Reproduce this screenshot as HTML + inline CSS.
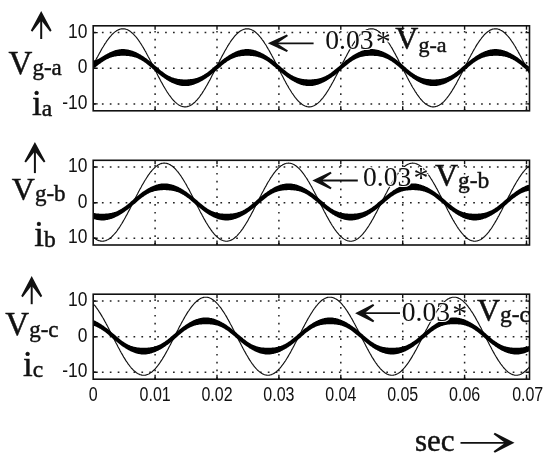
<!DOCTYPE html><html><head><meta charset="utf-8"><title>plot</title><style>html,body{margin:0;padding:0;background:#fff}svg{display:block;filter:blur(.35px)}text{fill:#111}.t{stroke:#111;stroke-width:.45px}.h{stroke:#fff;stroke-width:2.2px;paint-order:stroke fill}.s{font-family:"Liberation Sans",sans-serif;font-size:19.4px}.t{font-family:"Liberation Serif",serif}</style></head><body>
<svg width="550" height="463" viewBox="0 0 550 463">
<rect width="550" height="463" fill="#fff"/>
<defs>
<clipPath id="c0"><rect x="93.2" y="25.8" width="436.3" height="85.0"/></clipPath>
<clipPath id="c1"><rect x="93.2" y="160.3" width="436.3" height="84.69999999999999"/></clipPath>
<clipPath id="c2"><rect x="93.2" y="294.2" width="436.3" height="85.0"/></clipPath>
</defs>
<path d="M93.7,32.6H529.5 M93.7,68.3H529.5 M93.7,103.9H529.5" stroke="#222" stroke-width="1.5" stroke-dasharray="1.7 6.2" stroke-dashoffset="-0.3" fill="none"/>
<path d="M155.1,110.6V25.8 M217.0,110.6V25.8 M278.9,110.6V25.8 M340.8,110.6V25.8 M402.7,110.6V25.8 M464.6,110.6V25.8 M526.5,110.6V25.8" stroke="#222" stroke-width="1.5" stroke-dasharray="1.7 6.1" fill="none"/>
<g clip-path="url(#c0)">
<polyline points="93.2,65.2 93.8,64.0 94.4,62.8 95.1,61.6 95.7,60.3 96.3,59.1 96.9,57.9 97.6,56.8 98.2,55.6 98.8,54.4 99.4,53.3 100.1,52.1 100.7,51.0 101.3,49.9 101.9,48.8 102.5,47.8 103.2,46.7 103.8,45.7 104.4,44.7 105.0,43.7 105.7,42.8 106.3,41.8 106.9,40.9 107.5,40.0 108.2,39.2 108.8,38.4 109.4,37.6 110.0,36.8 110.7,36.1 111.3,35.4 111.9,34.7 112.5,34.1 113.1,33.5 113.8,32.9 114.4,32.4 115.0,31.9 115.6,31.4 116.3,31.0 116.9,30.6 117.5,30.2 118.1,29.9 118.8,29.6 119.4,29.4 120.0,29.2 120.6,29.0 121.2,28.9 121.9,28.8 122.5,28.8 123.1,28.8 123.7,28.8 124.4,28.9 125.0,29.0 125.6,29.1 126.2,29.3 126.9,29.5 127.5,29.8 128.1,30.1 128.7,30.4 129.4,30.8 130.0,31.2 130.6,31.7 131.2,32.1 131.8,32.7 132.5,33.2 133.1,33.8 133.7,34.4 134.3,35.1 135.0,35.8 135.6,36.5 136.2,37.2 136.8,38.0 137.5,38.8 138.1,39.7 138.7,40.5 139.3,41.4 139.9,42.3 140.6,43.3 141.2,44.3 141.8,45.3 142.4,46.3 143.1,47.3 143.7,48.4 144.3,49.4 144.9,50.5 145.6,51.6 146.2,52.8 146.8,53.9 147.4,55.1 148.0,56.2 148.7,57.4 149.3,58.6 149.9,59.8 150.5,61.0 151.2,62.2 151.8,63.5 152.4,64.7 153.0,65.9 153.7,67.1 154.3,68.4 154.9,69.6 155.5,70.8 156.2,72.1 156.8,73.3 157.4,74.5 158.0,75.7 158.6,76.9 159.3,78.1 159.9,79.3 160.5,80.5 161.1,81.6 161.8,82.8 162.4,83.9 163.0,85.0 163.6,86.1 164.3,87.2 164.9,88.2 165.5,89.3 166.1,90.3 166.7,91.3 167.4,92.3 168.0,93.2 168.6,94.1 169.2,95.0 169.9,95.9 170.5,96.7 171.1,97.5 171.7,98.3 172.4,99.1 173.0,99.8 173.6,100.5 174.2,101.1 174.9,101.8 175.5,102.4 176.1,102.9 176.7,103.4 177.3,103.9 178.0,104.4 178.6,104.8 179.2,105.2 179.8,105.5 180.5,105.8 181.1,106.1 181.7,106.3 182.3,106.5 183.0,106.6 183.6,106.7 184.2,106.8 184.8,106.8 185.4,106.8 186.1,106.8 186.7,106.7 187.3,106.6 187.9,106.4 188.6,106.2 189.2,106.0 189.8,105.7 190.4,105.4 191.1,105.0 191.7,104.7 192.3,104.2 192.9,103.8 193.5,103.3 194.2,102.7 194.8,102.2 195.4,101.6 196.0,100.9 196.7,100.3 197.3,99.6 197.9,98.8 198.5,98.1 199.2,97.3 199.8,96.5 200.4,95.6 201.0,94.7 201.7,93.8 202.3,92.9 202.9,91.9 203.5,91.0 204.1,90.0 204.8,88.9 205.4,87.9 206.0,86.8 206.6,85.8 207.3,84.6 207.9,83.5 208.5,82.4 209.1,81.2 209.8,80.1 210.4,78.9 211.0,77.7 211.6,76.5 212.2,75.3 212.9,74.1 213.5,72.9 214.1,71.7 214.7,70.4 215.4,69.2 216.0,68.0 216.6,66.8 217.2,65.5 217.9,64.3 218.5,63.1 219.1,61.9 219.7,60.6 220.4,59.4 221.0,58.2 221.6,57.0 222.2,55.9 222.8,54.7 223.5,53.6 224.1,52.4 224.7,51.3 225.3,50.2 226.0,49.1 226.6,48.0 227.2,47.0 227.8,45.9 228.5,44.9 229.1,43.9 229.7,43.0 230.3,42.0 230.9,41.1 231.6,40.2 232.2,39.4 232.8,38.6 233.4,37.8 234.1,37.0 234.7,36.2 235.3,35.5 235.9,34.9 236.6,34.2 237.2,33.6 237.8,33.0 238.4,32.5 239.0,32.0 239.7,31.5 240.3,31.1 240.9,30.7 241.5,30.3 242.2,30.0 242.8,29.7 243.4,29.5 244.0,29.2 244.7,29.1 245.3,28.9 245.9,28.8 246.5,28.8 247.2,28.8 247.8,28.8 248.4,28.8 249.0,28.9 249.6,29.1 250.3,29.3 250.9,29.5 251.5,29.7 252.1,30.0 252.8,30.3 253.4,30.7 254.0,31.1 254.6,31.5 255.3,32.0 255.9,32.5 256.5,33.1 257.1,33.7 257.7,34.3 258.4,34.9 259.0,35.6 259.6,36.3 260.2,37.0 260.9,37.8 261.5,38.6 262.1,39.5 262.7,40.3 263.4,41.2 264.0,42.1 264.6,43.1 265.2,44.0 265.9,45.0 266.5,46.0 267.1,47.1 267.7,48.1 268.3,49.2 269.0,50.3 269.6,51.4 270.2,52.5 270.8,53.6 271.5,54.8 272.1,56.0 272.7,57.1 273.3,58.3 274.0,59.5 274.6,60.7 275.2,61.9 275.8,63.2 276.4,64.4 277.1,65.6 277.7,66.9 278.3,68.1 278.9,69.3 279.6,70.5 280.2,71.8 280.8,73.0 281.4,74.2 282.1,75.4 282.7,76.6 283.3,77.8 283.9,79.0 284.5,80.2 285.2,81.3 285.8,82.5 286.4,83.6 287.0,84.7 287.7,85.8 288.3,86.9 288.9,88.0 289.5,89.0 290.2,90.0 290.8,91.0 291.4,92.0 292.0,93.0 292.7,93.9 293.3,94.8 293.9,95.7 294.5,96.5 295.1,97.4 295.8,98.1 296.4,98.9 297.0,99.6 297.6,100.3 298.3,101.0 298.9,101.6 299.5,102.2 300.1,102.8 300.8,103.3 301.4,103.8 302.0,104.3 302.6,104.7 303.2,105.1 303.9,105.4 304.5,105.7 305.1,106.0 305.7,106.2 306.4,106.4 307.0,106.6 307.6,106.7 308.2,106.8 308.9,106.8 309.5,106.8 310.1,106.8 310.7,106.7 311.4,106.6 312.0,106.5 312.6,106.3 313.2,106.0 313.8,105.8 314.5,105.5 315.1,105.1 315.7,104.7 316.3,104.3 317.0,103.9 317.6,103.4 318.2,102.9 318.8,102.3 319.5,101.7 320.1,101.1 320.7,100.4 321.3,99.7 321.9,99.0 322.6,98.3 323.2,97.5 323.8,96.7 324.4,95.8 325.1,95.0 325.7,94.1 326.3,93.1 326.9,92.2 327.6,91.2 328.2,90.2 328.8,89.2 329.4,88.2 330.0,87.1 330.7,86.0 331.3,84.9 331.9,83.8 332.5,82.7 333.2,81.5 333.8,80.4 334.4,79.2 335.0,78.0 335.7,76.8 336.3,75.6 336.9,74.4 337.5,73.2 338.2,72.0 338.8,70.7 339.4,69.5 340.0,68.3 340.6,67.1 341.3,65.8 341.9,64.6 342.5,63.4 343.1,62.1 343.8,60.9 344.4,59.7 345.0,58.5 345.6,57.3 346.3,56.2 346.9,55.0 347.5,53.8 348.1,52.7 348.7,51.6 349.4,50.4 350.0,49.4 350.6,48.3 351.2,47.2 351.9,46.2 352.5,45.2 353.1,44.2 353.7,43.2 354.4,42.3 355.0,41.4 355.6,40.5 356.2,39.6 356.8,38.8 357.5,37.9 358.1,37.2 358.7,36.4 359.3,35.7 360.0,35.0 360.6,34.4 361.2,33.8 361.8,33.2 362.5,32.6 363.1,32.1 363.7,31.6 364.3,31.2 365.0,30.8 365.6,30.4 366.2,30.1 366.8,29.8 367.4,29.5 368.1,29.3 368.7,29.1 369.3,29.0 369.9,28.9 370.6,28.8 371.2,28.8 371.8,28.8 372.4,28.8 373.1,28.9 373.7,29.0 374.3,29.2 374.9,29.4 375.5,29.7 376.2,29.9 376.8,30.3 377.4,30.6 378.0,31.0 378.7,31.4 379.3,31.9 379.9,32.4 380.5,32.9 381.2,33.5 381.8,34.1 382.4,34.8 383.0,35.4 383.7,36.1 384.3,36.9 384.9,37.6 385.5,38.4 386.1,39.2 386.8,40.1 387.4,41.0 388.0,41.9 388.6,42.8 389.3,43.8 389.9,44.8 390.5,45.8 391.1,46.8 391.8,47.8 392.4,48.9 393.0,50.0 393.6,51.1 394.2,52.2 394.9,53.4 395.5,54.5 396.1,55.7 396.7,56.9 397.4,58.0 398.0,59.2 398.6,60.4 399.2,61.7 399.9,62.9 400.5,64.1 401.1,65.3 401.7,66.6 402.3,67.8 403.0,69.0 403.6,70.2 404.2,71.5 404.8,72.7 405.5,73.9 406.1,75.1 406.7,76.3 407.3,77.5 408.0,78.7 408.6,79.9 409.2,81.1 409.8,82.2 410.5,83.3 411.1,84.5 411.7,85.6 412.3,86.7 412.9,87.7 413.6,88.8 414.2,89.8 414.8,90.8 415.4,91.8 416.1,92.7 416.7,93.7 417.3,94.6 417.9,95.5 418.6,96.3 419.2,97.2 419.8,98.0 420.4,98.7 421.0,99.5 421.7,100.2 422.3,100.8 422.9,101.5 423.5,102.1 424.2,102.6 424.8,103.2 425.4,103.7 426.0,104.2 426.7,104.6 427.3,105.0 427.9,105.3 428.5,105.7 429.2,105.9 429.8,106.2 430.4,106.4 431.0,106.6 431.6,106.7 432.3,106.8 432.9,106.8 433.5,106.8 434.1,106.8 434.8,106.7 435.4,106.6 436.0,106.5 436.6,106.3 437.3,106.1 437.9,105.8 438.5,105.5 439.1,105.2 439.7,104.8 440.4,104.4 441.0,104.0 441.6,103.5 442.2,103.0 442.9,102.5 443.5,101.9 444.1,101.3 444.7,100.6 445.4,99.9 446.0,99.2 446.6,98.5 447.2,97.7 447.8,96.9 448.5,96.0 449.1,95.2 449.7,94.3 450.3,93.4 451.0,92.4 451.6,91.4 452.2,90.5 452.8,89.4 453.5,88.4 454.1,87.4 454.7,86.3 455.3,85.2 456.0,84.1 456.6,82.9 457.2,81.8 457.8,80.6 458.4,79.5 459.1,78.3 459.7,77.1 460.3,75.9 460.9,74.7 461.6,73.5 462.2,72.3 462.8,71.0 463.4,69.8 464.1,68.6 464.7,67.4 465.3,66.1 465.9,64.9 466.5,63.7 467.2,62.4 467.8,61.2 468.4,60.0 469.0,58.8 469.7,57.6 470.3,56.4 470.9,55.3 471.5,54.1 472.2,53.0 472.8,51.8 473.4,50.7 474.0,49.6 474.7,48.5 475.3,47.5 475.9,46.4 476.5,45.4 477.1,44.4 477.8,43.4 478.4,42.5 479.0,41.6 479.6,40.7 480.3,39.8 480.9,39.0 481.5,38.1 482.1,37.4 482.8,36.6 483.4,35.9 484.0,35.2 484.6,34.5 485.2,33.9 485.9,33.3 486.5,32.7 487.1,32.2 487.7,31.7 488.4,31.3 489.0,30.9 489.6,30.5 490.2,30.1 490.9,29.8 491.5,29.6 492.1,29.3 492.7,29.1 493.3,29.0 494.0,28.9 494.6,28.8 495.2,28.8 495.8,28.8 496.5,28.8 497.1,28.9 497.7,29.0 498.3,29.2 499.0,29.4 499.6,29.6 500.2,29.9 500.8,30.2 501.5,30.5 502.1,30.9 502.7,31.3 503.3,31.8 503.9,32.3 504.6,32.8 505.2,33.4 505.8,34.0 506.4,34.6 507.1,35.3 507.7,36.0 508.3,36.7 508.9,37.4 509.6,38.2 510.2,39.0 510.8,39.9 511.4,40.8 512.0,41.7 512.7,42.6 513.3,43.5 513.9,44.5 514.5,45.5 515.2,46.5 515.8,47.6 516.4,48.7 517.0,49.7 517.7,50.8 518.3,52.0 518.9,53.1 519.5,54.2 520.2,55.4 520.8,56.6 521.4,57.8 522.0,58.9 522.6,60.1 523.3,61.4 523.9,62.6 524.5,63.8 525.1,65.0 525.8,66.3 526.4,67.5 527.0,68.7 527.6,69.9 528.3,71.2 528.9,72.4 529.5,73.6" fill="none" stroke="#111" stroke-width="1.15"/>
<polygon points="93.2,60.1 93.8,60.2 94.4,60.3 95.1,60.2 95.7,60.1 96.3,59.9 96.9,59.6 97.6,59.3 98.2,59.0 98.8,58.7 99.4,58.3 100.1,58.0 100.7,57.6 101.3,57.2 101.9,56.8 102.5,56.4 103.2,56.1 103.8,55.7 104.4,55.3 105.0,54.9 105.7,54.6 106.3,54.2 106.9,53.9 107.5,53.5 108.2,53.2 108.8,52.9 109.4,52.6 110.0,52.3 110.7,52.0 111.3,51.7 111.9,51.4 112.5,51.2 113.1,51.0 113.8,50.7 114.4,50.5 115.0,50.3 115.6,50.1 116.3,50.0 116.9,49.8 117.5,49.7 118.1,49.5 118.8,49.4 119.4,49.3 120.0,49.3 120.6,49.2 121.2,49.1 121.9,49.1 122.5,49.1 123.1,49.1 123.7,49.1 124.4,49.1 125.0,49.2 125.6,49.2 126.2,49.3 126.9,49.4 127.5,49.5 128.1,49.6 128.7,49.7 129.4,49.9 130.0,50.0 130.6,50.2 131.2,50.4 131.8,50.6 132.5,50.8 133.1,51.0 133.7,51.3 134.3,51.5 135.0,51.8 135.6,52.0 136.2,52.3 136.8,52.6 137.5,52.9 138.1,53.2 138.7,53.6 139.3,53.9 139.9,54.3 140.6,54.6 141.2,55.0 141.8,55.4 142.4,55.8 143.1,56.2 143.7,56.6 144.3,57.0 144.9,57.4 145.6,57.9 146.2,58.3 146.8,58.8 147.4,59.3 148.0,59.7 148.7,60.2 149.3,60.7 149.9,61.2 150.5,61.7 151.2,62.2 151.8,62.7 152.4,63.3 153.0,63.8 153.7,64.3 154.3,64.9 154.9,65.4 155.5,65.9 156.2,66.5 156.8,67.0 157.4,67.6 158.0,68.1 158.6,68.6 159.3,69.1 159.9,69.7 160.5,70.2 161.1,70.7 161.8,71.2 162.4,71.6 163.0,72.1 163.6,72.6 164.3,73.0 164.9,73.5 165.5,73.9 166.1,74.3 166.7,74.7 167.4,75.0 168.0,75.4 168.6,75.7 169.2,76.0 169.9,76.3 170.5,76.6 171.1,76.9 171.7,77.2 172.4,77.4 173.0,77.6 173.6,77.8 174.2,78.0 174.9,78.2 175.5,78.3 176.1,78.5 176.7,78.6 177.3,78.7 178.0,78.9 178.6,78.9 179.2,79.0 179.8,79.1 180.5,79.2 181.1,79.2 181.7,79.3 182.3,79.3 183.0,79.4 183.6,79.4 184.2,79.4 184.8,79.4 185.4,79.4 186.1,79.4 186.7,79.4 187.3,79.4 187.9,79.3 188.6,79.3 189.2,79.2 189.8,79.2 190.4,79.1 191.1,79.1 191.7,79.0 192.3,78.9 192.9,78.8 193.5,78.7 194.2,78.5 194.8,78.4 195.4,78.2 196.0,78.1 196.7,77.9 197.3,77.7 197.9,77.5 198.5,77.3 199.2,77.0 199.8,76.8 200.4,76.5 201.0,76.2 201.7,75.9 202.3,75.6 202.9,75.2 203.5,74.9 204.1,74.5 204.8,74.1 205.4,73.7 206.0,73.3 206.6,72.9 207.3,72.4 207.9,71.9 208.5,71.5 209.1,71.0 209.8,70.5 210.4,70.0 211.0,69.5 211.6,69.0 212.2,68.4 212.9,67.9 213.5,67.4 214.1,66.8 214.7,66.3 215.4,65.8 216.0,65.2 216.6,64.7 217.2,64.2 217.9,63.6 218.5,63.1 219.1,62.6 219.7,62.0 220.4,61.5 221.0,61.0 221.6,60.5 222.2,60.0 222.8,59.5 223.5,59.1 224.1,58.6 224.7,58.1 225.3,57.7 226.0,57.2 226.6,56.8 227.2,56.4 227.8,55.9 228.5,55.5 229.1,55.1 229.7,54.7 230.3,54.4 230.9,54.0 231.6,53.7 232.2,53.3 232.8,53.0 233.4,52.7 234.1,52.4 234.7,52.1 235.3,51.8 235.9,51.5 236.6,51.3 237.2,51.0 237.8,50.8 238.4,50.6 239.0,50.4 239.7,50.2 240.3,50.0 240.9,49.8 241.5,49.7 242.2,49.6 242.8,49.5 243.4,49.4 244.0,49.3 244.7,49.2 245.3,49.1 245.9,49.1 246.5,49.1 247.2,49.1 247.8,49.1 248.4,49.1 249.0,49.1 249.6,49.2 250.3,49.3 250.9,49.3 251.5,49.4 252.1,49.6 252.8,49.7 253.4,49.8 254.0,50.0 254.6,50.2 255.3,50.3 255.9,50.5 256.5,50.7 257.1,51.0 257.7,51.2 258.4,51.4 259.0,51.7 259.6,52.0 260.2,52.3 260.9,52.5 261.5,52.9 262.1,53.2 262.7,53.5 263.4,53.8 264.0,54.2 264.6,54.5 265.2,54.9 265.9,55.3 266.5,55.7 267.1,56.1 267.7,56.5 268.3,56.9 269.0,57.3 269.6,57.8 270.2,58.2 270.8,58.7 271.5,59.1 272.1,59.6 272.7,60.1 273.3,60.6 274.0,61.1 274.6,61.6 275.2,62.1 275.8,62.6 276.4,63.1 277.1,63.7 277.7,64.2 278.3,64.7 278.9,65.3 279.6,65.8 280.2,66.3 280.8,66.9 281.4,67.4 282.1,68.0 282.7,68.5 283.3,69.0 283.9,69.5 284.5,70.0 285.2,70.5 285.8,71.0 286.4,71.5 287.0,72.0 287.7,72.5 288.3,72.9 288.9,73.3 289.5,73.8 290.2,74.2 290.8,74.6 291.4,74.9 292.0,75.3 292.7,75.6 293.3,76.0 293.9,76.3 294.5,76.6 295.1,76.8 295.8,77.1 296.4,77.3 297.0,77.6 297.6,77.8 298.3,78.0 298.9,78.1 299.5,78.3 300.1,78.5 300.8,78.6 301.4,78.7 302.0,78.8 302.6,78.9 303.2,79.0 303.9,79.1 304.5,79.2 305.1,79.2 305.7,79.3 306.4,79.3 307.0,79.3 307.6,79.4 308.2,79.4 308.9,79.4 309.5,79.4 310.1,79.4 310.7,79.4 311.4,79.4 312.0,79.3 312.6,79.3 313.2,79.3 313.8,79.2 314.5,79.1 315.1,79.1 315.7,79.0 316.3,78.9 317.0,78.8 317.6,78.7 318.2,78.6 318.8,78.4 319.5,78.3 320.1,78.1 320.7,77.9 321.3,77.7 321.9,77.5 322.6,77.3 323.2,77.1 323.8,76.8 324.4,76.6 325.1,76.3 325.7,76.0 326.3,75.6 326.9,75.3 327.6,75.0 328.2,74.6 328.8,74.2 329.4,73.8 330.0,73.4 330.7,73.0 331.3,72.5 331.9,72.1 332.5,71.6 333.2,71.1 333.8,70.6 334.4,70.1 335.0,69.6 335.7,69.1 336.3,68.6 336.9,68.0 337.5,67.5 338.2,67.0 338.8,66.4 339.4,65.9 340.0,65.4 340.6,64.8 341.3,64.3 341.9,63.7 342.5,63.2 343.1,62.7 343.8,62.2 344.4,61.7 345.0,61.1 345.6,60.6 346.3,60.1 346.9,59.7 347.5,59.2 348.1,58.7 348.7,58.2 349.4,57.8 350.0,57.3 350.6,56.9 351.2,56.5 351.9,56.0 352.5,55.6 353.1,55.2 353.7,54.8 354.4,54.5 355.0,54.1 355.6,53.7 356.2,53.4 356.8,53.1 357.5,52.7 358.1,52.4 358.7,52.1 359.3,51.9 360.0,51.6 360.6,51.3 361.2,51.1 361.8,50.8 362.5,50.6 363.1,50.4 363.7,50.2 364.3,50.0 365.0,49.9 365.6,49.7 366.2,49.6 366.8,49.5 367.4,49.4 368.1,49.3 368.7,49.2 369.3,49.2 369.9,49.1 370.6,49.1 371.2,49.1 371.8,49.1 372.4,49.1 373.1,49.1 373.7,49.2 374.3,49.2 374.9,49.3 375.5,49.4 376.2,49.5 376.8,49.7 377.4,49.8 378.0,49.9 378.7,50.1 379.3,50.3 379.9,50.5 380.5,50.7 381.2,50.9 381.8,51.1 382.4,51.4 383.0,51.6 383.7,51.9 384.3,52.2 384.9,52.5 385.5,52.8 386.1,53.1 386.8,53.4 387.4,53.7 388.0,54.1 388.6,54.5 389.3,54.8 389.9,55.2 390.5,55.6 391.1,56.0 391.8,56.4 392.4,56.8 393.0,57.2 393.6,57.7 394.2,58.1 394.9,58.6 395.5,59.0 396.1,59.5 396.7,60.0 397.4,60.5 398.0,61.0 398.6,61.5 399.2,62.0 399.9,62.5 400.5,63.0 401.1,63.5 401.7,64.1 402.3,64.6 403.0,65.1 403.6,65.7 404.2,66.2 404.8,66.8 405.5,67.3 406.1,67.8 406.7,68.4 407.3,68.9 408.0,69.4 408.6,69.9 409.2,70.4 409.8,70.9 410.5,71.4 411.1,71.9 411.7,72.4 412.3,72.8 412.9,73.2 413.6,73.7 414.2,74.1 414.8,74.5 415.4,74.9 416.1,75.2 416.7,75.6 417.3,75.9 417.9,76.2 418.6,76.5 419.2,76.8 419.8,77.0 420.4,77.3 421.0,77.5 421.7,77.7 422.3,77.9 422.9,78.1 423.5,78.3 424.2,78.4 424.8,78.6 425.4,78.7 426.0,78.8 426.7,78.9 427.3,79.0 427.9,79.1 428.5,79.1 429.2,79.2 429.8,79.3 430.4,79.3 431.0,79.3 431.6,79.4 432.3,79.4 432.9,79.4 433.5,79.4 434.1,79.4 434.8,79.4 435.4,79.4 436.0,79.3 436.6,79.3 437.3,79.3 437.9,79.2 438.5,79.2 439.1,79.1 439.7,79.0 440.4,78.9 441.0,78.8 441.6,78.7 442.2,78.6 442.9,78.5 443.5,78.3 444.1,78.2 444.7,78.0 445.4,77.8 446.0,77.6 446.6,77.4 447.2,77.1 447.8,76.9 448.5,76.6 449.1,76.3 449.7,76.0 450.3,75.7 451.0,75.4 451.6,75.0 452.2,74.7 452.8,74.3 453.5,73.9 454.1,73.5 454.7,73.1 455.3,72.6 456.0,72.2 456.6,71.7 457.2,71.2 457.8,70.7 458.4,70.2 459.1,69.7 459.7,69.2 460.3,68.7 460.9,68.2 461.6,67.6 462.2,67.1 462.8,66.6 463.4,66.0 464.1,65.5 464.7,64.9 465.3,64.4 465.9,63.9 466.5,63.3 467.2,62.8 467.8,62.3 468.4,61.8 469.0,61.3 469.7,60.8 470.3,60.3 470.9,59.8 471.5,59.3 472.2,58.8 472.8,58.3 473.4,57.9 474.0,57.4 474.7,57.0 475.3,56.6 475.9,56.1 476.5,55.7 477.1,55.3 477.8,54.9 478.4,54.6 479.0,54.2 479.6,53.8 480.3,53.5 480.9,53.1 481.5,52.8 482.1,52.5 482.8,52.2 483.4,51.9 484.0,51.6 484.6,51.4 485.2,51.1 485.9,50.9 486.5,50.7 487.1,50.5 487.7,50.3 488.4,50.1 489.0,49.9 489.6,49.8 490.2,49.6 490.9,49.5 491.5,49.4 492.1,49.3 492.7,49.2 493.3,49.2 494.0,49.1 494.6,49.1 495.2,49.1 495.8,49.1 496.5,49.1 497.1,49.1 497.7,49.2 498.3,49.2 499.0,49.3 499.6,49.4 500.2,49.5 500.8,49.6 501.5,49.8 502.1,49.9 502.7,50.1 503.3,50.2 503.9,50.4 504.6,50.6 505.2,50.9 505.8,51.1 506.4,51.3 507.1,51.6 507.7,51.8 508.3,52.1 508.9,52.4 509.6,52.7 510.2,53.0 510.8,53.3 511.4,53.7 512.0,54.0 512.7,54.4 513.3,54.7 513.9,55.1 514.5,55.5 515.2,55.9 515.8,56.3 516.4,56.7 517.0,57.1 517.7,57.6 518.3,58.0 518.9,58.5 519.5,58.9 520.2,59.4 520.8,59.9 521.4,60.4 522.0,60.8 522.6,61.3 523.3,61.9 523.9,62.4 524.5,62.9 525.1,63.4 525.8,63.9 526.4,64.5 527.0,65.0 527.6,65.5 528.3,66.1 528.9,66.6 529.5,67.2 529.5,72.6 528.9,72.0 528.3,71.5 527.6,71.0 527.0,70.4 526.4,69.9 525.8,69.4 525.1,68.8 524.5,68.3 523.9,67.7 523.3,67.2 522.6,66.7 522.0,66.2 521.4,65.6 520.8,65.1 520.2,64.6 519.5,64.1 518.9,63.6 518.3,63.2 517.7,62.7 517.0,62.3 516.4,61.8 515.8,61.4 515.2,61.0 514.5,60.6 513.9,60.3 513.3,59.9 512.7,59.6 512.0,59.2 511.4,58.9 510.8,58.7 510.2,58.4 509.6,58.1 508.9,57.9 508.3,57.7 507.7,57.5 507.1,57.3 506.4,57.1 505.8,56.9 505.2,56.8 504.6,56.6 503.9,56.5 503.3,56.4 502.7,56.3 502.1,56.2 501.5,56.1 500.8,56.0 500.2,56.0 499.6,55.9 499.0,55.9 498.3,55.8 497.7,55.8 497.1,55.8 496.5,55.8 495.8,55.8 495.2,55.8 494.6,55.8 494.0,55.8 493.3,55.8 492.7,55.9 492.1,55.9 491.5,55.9 490.9,56.0 490.2,56.1 489.6,56.1 489.0,56.2 488.4,56.3 487.7,56.4 487.1,56.6 486.5,56.7 485.9,56.8 485.2,57.0 484.6,57.2 484.0,57.4 483.4,57.6 482.8,57.8 482.1,58.0 481.5,58.3 480.9,58.6 480.3,58.9 479.6,59.2 479.0,59.5 478.4,59.8 477.8,60.2 477.1,60.6 476.5,60.9 475.9,61.3 475.3,61.8 474.7,62.2 474.0,62.6 473.4,63.1 472.8,63.6 472.2,64.1 471.5,64.6 470.9,65.1 470.3,65.6 469.7,66.1 469.0,66.6 468.4,67.1 467.8,67.7 467.2,68.2 466.5,68.8 465.9,69.3 465.3,69.8 464.7,70.4 464.1,70.9 463.4,71.4 462.8,72.0 462.2,72.5 461.6,73.0 460.9,73.5 460.3,74.0 459.7,74.5 459.1,75.0 458.4,75.5 457.8,76.0 457.2,76.4 456.6,76.9 456.0,77.3 455.3,77.8 454.7,78.2 454.1,78.6 453.5,79.0 452.8,79.4 452.2,79.8 451.6,80.2 451.0,80.6 450.3,80.9 449.7,81.3 449.1,81.6 448.5,82.0 447.8,82.3 447.2,82.6 446.6,82.9 446.0,83.2 445.4,83.4 444.7,83.7 444.1,83.9 443.5,84.2 442.9,84.4 442.2,84.6 441.6,84.8 441.0,85.0 440.4,85.2 439.7,85.3 439.1,85.5 438.5,85.6 437.9,85.7 437.3,85.8 436.6,85.9 436.0,86.0 435.4,86.0 434.8,86.1 434.1,86.1 433.5,86.1 432.9,86.1 432.3,86.1 431.6,86.0 431.0,86.0 430.4,85.9 429.8,85.8 429.2,85.7 428.5,85.6 427.9,85.5 427.3,85.3 426.7,85.2 426.0,85.0 425.4,84.8 424.8,84.6 424.2,84.4 423.5,84.2 422.9,83.9 422.3,83.7 421.7,83.4 421.0,83.1 420.4,82.9 419.8,82.6 419.2,82.2 418.6,81.9 417.9,81.6 417.3,81.2 416.7,80.9 416.1,80.5 415.4,80.1 414.8,79.7 414.2,79.3 413.6,78.9 412.9,78.4 412.3,78.0 411.7,77.6 411.1,77.1 410.5,76.7 409.8,76.2 409.2,75.7 408.6,75.2 408.0,74.7 407.3,74.2 406.7,73.7 406.1,73.2 405.5,72.7 404.8,72.2 404.2,71.6 403.6,71.1 403.0,70.6 402.3,70.0 401.7,69.5 401.1,68.9 400.5,68.4 399.9,67.9 399.2,67.3 398.6,66.8 398.0,66.3 397.4,65.8 396.7,65.2 396.1,64.7 395.5,64.2 394.9,63.8 394.2,63.3 393.6,62.8 393.0,62.4 392.4,61.9 391.8,61.5 391.1,61.1 390.5,60.7 389.9,60.4 389.3,60.0 388.6,59.7 388.0,59.3 387.4,59.0 386.8,58.7 386.1,58.4 385.5,58.2 384.9,57.9 384.3,57.7 383.7,57.5 383.0,57.3 382.4,57.1 381.8,57.0 381.2,56.8 380.5,56.7 379.9,56.5 379.3,56.4 378.7,56.3 378.0,56.2 377.4,56.1 376.8,56.1 376.2,56.0 375.5,55.9 374.9,55.9 374.3,55.9 373.7,55.8 373.1,55.8 372.4,55.8 371.8,55.8 371.2,55.8 370.6,55.8 369.9,55.8 369.3,55.8 368.7,55.8 368.1,55.9 367.4,55.9 366.8,56.0 366.2,56.1 365.6,56.1 365.0,56.2 364.3,56.3 363.7,56.4 363.1,56.5 362.5,56.7 361.8,56.8 361.2,57.0 360.6,57.1 360.0,57.3 359.3,57.5 358.7,57.8 358.1,58.0 357.5,58.2 356.8,58.5 356.2,58.8 355.6,59.1 355.0,59.4 354.4,59.7 353.7,60.1 353.1,60.5 352.5,60.8 351.9,61.2 351.2,61.7 350.6,62.1 350.0,62.5 349.4,63.0 348.7,63.5 348.1,63.9 347.5,64.4 346.9,64.9 346.3,65.4 345.6,66.0 345.0,66.5 344.4,67.0 343.8,67.5 343.1,68.1 342.5,68.6 341.9,69.2 341.3,69.7 340.6,70.2 340.0,70.8 339.4,71.3 338.8,71.8 338.2,72.4 337.5,72.9 336.9,73.4 336.3,73.9 335.7,74.4 335.0,74.9 334.4,75.4 333.8,75.9 333.2,76.3 332.5,76.8 331.9,77.2 331.3,77.7 330.7,78.1 330.0,78.5 329.4,78.9 328.8,79.3 328.2,79.7 327.6,80.1 326.9,80.5 326.3,80.9 325.7,81.2 325.1,81.6 324.4,81.9 323.8,82.2 323.2,82.5 322.6,82.8 321.9,83.1 321.3,83.4 320.7,83.6 320.1,83.9 319.5,84.1 318.8,84.4 318.2,84.6 317.6,84.8 317.0,85.0 316.3,85.1 315.7,85.3 315.1,85.4 314.5,85.6 313.8,85.7 313.2,85.8 312.6,85.9 312.0,86.0 311.4,86.0 310.7,86.1 310.1,86.1 309.5,86.1 308.9,86.1 308.2,86.1 307.6,86.0 307.0,86.0 306.4,85.9 305.7,85.8 305.1,85.8 304.5,85.6 303.9,85.5 303.2,85.4 302.6,85.2 302.0,85.1 301.4,84.9 300.8,84.7 300.1,84.5 299.5,84.2 298.9,84.0 298.3,83.8 297.6,83.5 297.0,83.2 296.4,82.9 295.8,82.6 295.1,82.3 294.5,82.0 293.9,81.6 293.3,81.3 292.7,80.9 292.0,80.6 291.4,80.2 290.8,79.8 290.2,79.4 289.5,79.0 288.9,78.6 288.3,78.1 287.7,77.7 287.0,77.2 286.4,76.8 285.8,76.3 285.2,75.8 284.5,75.3 283.9,74.8 283.3,74.3 282.7,73.8 282.1,73.3 281.4,72.8 280.8,72.3 280.2,71.8 279.6,71.2 278.9,70.7 278.3,70.2 277.7,69.6 277.1,69.1 276.4,68.5 275.8,68.0 275.2,67.5 274.6,66.9 274.0,66.4 273.3,65.9 272.7,65.4 272.1,64.9 271.5,64.4 270.8,63.9 270.2,63.4 269.6,62.9 269.0,62.5 268.3,62.1 267.7,61.6 267.1,61.2 266.5,60.8 265.9,60.4 265.2,60.1 264.6,59.7 264.0,59.4 263.4,59.1 262.7,58.8 262.1,58.5 261.5,58.2 260.9,58.0 260.2,57.8 259.6,57.6 259.0,57.4 258.4,57.2 257.7,57.0 257.1,56.8 256.5,56.7 255.9,56.6 255.3,56.4 254.6,56.3 254.0,56.2 253.4,56.2 252.8,56.1 252.1,56.0 251.5,56.0 250.9,55.9 250.3,55.9 249.6,55.8 249.0,55.8 248.4,55.8 247.8,55.8 247.2,55.8 246.5,55.8 245.9,55.8 245.3,55.8 244.7,55.8 244.0,55.9 243.4,55.9 242.8,56.0 242.2,56.0 241.5,56.1 240.9,56.2 240.3,56.3 239.7,56.4 239.0,56.5 238.4,56.6 237.8,56.8 237.2,56.9 236.6,57.1 235.9,57.3 235.3,57.5 234.7,57.7 234.1,57.9 233.4,58.2 232.8,58.4 232.2,58.7 231.6,59.0 230.9,59.3 230.3,59.7 229.7,60.0 229.1,60.4 228.5,60.8 227.8,61.1 227.2,61.6 226.6,62.0 226.0,62.4 225.3,62.9 224.7,63.3 224.1,63.8 223.5,64.3 222.8,64.8 222.2,65.3 221.6,65.8 221.0,66.4 220.4,66.9 219.7,67.4 219.1,68.0 218.5,68.5 217.9,69.0 217.2,69.6 216.6,70.1 216.0,70.6 215.4,71.2 214.7,71.7 214.1,72.2 213.5,72.8 212.9,73.3 212.2,73.8 211.6,74.3 211.0,74.8 210.4,75.3 209.8,75.7 209.1,76.2 208.5,76.7 207.9,77.1 207.3,77.6 206.6,78.0 206.0,78.4 205.4,78.8 204.8,79.2 204.1,79.6 203.5,80.0 202.9,80.4 202.3,80.8 201.7,81.1 201.0,81.5 200.4,81.8 199.8,82.1 199.2,82.4 198.5,82.7 197.9,83.0 197.3,83.3 196.7,83.6 196.0,83.8 195.4,84.1 194.8,84.3 194.2,84.5 193.5,84.7 192.9,84.9 192.3,85.1 191.7,85.3 191.1,85.4 190.4,85.5 189.8,85.7 189.2,85.8 188.6,85.9 187.9,85.9 187.3,86.0 186.7,86.0 186.1,86.1 185.4,86.1 184.8,86.1 184.2,86.1 183.6,86.1 183.0,86.0 182.3,85.9 181.7,85.9 181.1,85.8 180.5,85.7 179.8,85.6 179.2,85.4 178.6,85.3 178.0,85.1 177.3,84.9 176.7,84.7 176.1,84.5 175.5,84.3 174.9,84.1 174.2,83.8 173.6,83.6 173.0,83.3 172.4,83.0 171.7,82.7 171.1,82.4 170.5,82.1 169.9,81.7 169.2,81.4 168.6,81.0 168.0,80.7 167.4,80.3 166.7,79.9 166.1,79.5 165.5,79.1 164.9,78.7 164.3,78.2 163.6,77.8 163.0,77.3 162.4,76.9 161.8,76.4 161.1,75.9 160.5,75.5 159.9,75.0 159.3,74.5 158.6,74.0 158.0,73.4 157.4,72.9 156.8,72.4 156.2,71.9 155.5,71.4 154.9,70.8 154.3,70.3 153.7,69.7 153.0,69.2 152.4,68.7 151.8,68.1 151.2,67.6 150.5,67.1 149.9,66.5 149.3,66.0 148.7,65.5 148.0,65.0 147.4,64.5 146.8,64.0 146.2,63.5 145.6,63.1 144.9,62.6 144.3,62.2 143.7,61.7 143.1,61.3 142.4,60.9 141.8,60.5 141.2,60.2 140.6,59.8 139.9,59.5 139.3,59.2 138.7,58.9 138.1,58.6 137.5,58.3 136.8,58.1 136.2,57.8 135.6,57.6 135.0,57.4 134.3,57.2 133.7,57.0 133.1,56.9 132.5,56.7 131.8,56.6 131.2,56.5 130.6,56.4 130.0,56.3 129.4,56.2 128.7,56.1 128.1,56.0 127.5,56.0 126.9,55.9 126.2,55.9 125.6,55.8 125.0,55.8 124.4,55.8 123.7,55.8 123.1,55.8 122.5,55.8 121.9,55.8 121.2,55.8 120.6,55.8 120.0,55.9 119.4,55.9 118.8,56.0 118.1,56.0 117.5,56.1 116.9,56.2 116.3,56.3 115.6,56.4 115.0,56.5 114.4,56.6 113.8,56.7 113.1,56.9 112.5,57.1 111.9,57.2 111.3,57.4 110.7,57.6 110.0,57.9 109.4,58.1 108.8,58.4 108.2,58.7 107.5,58.9 106.9,59.3 106.3,59.6 105.7,59.9 105.0,60.3 104.4,60.7 103.8,61.0 103.2,61.5 102.5,61.9 101.9,62.3 101.3,62.7 100.7,63.2 100.1,63.7 99.4,64.1 98.8,64.6 98.2,65.1 97.6,65.5 96.9,66.0 96.3,66.5 95.7,66.9 95.1,67.3 94.4,67.7 93.8,68.1 93.2,68.4" fill="#000"/>
</g>
<path d="M93.2,32.6h4.5 M529.5,32.6h-4 M93.2,68.3h4.5 M529.5,68.3h-4 M93.2,103.9h4.5 M529.5,103.9h-4 M155.1,110.8v-4.5 M155.1,25.8v4 M217.0,110.8v-4.5 M217.0,25.8v4 M278.9,110.8v-4.5 M278.9,25.8v4 M340.8,110.8v-4.5 M340.8,25.8v4 M402.7,110.8v-4.5 M402.7,25.8v4 M464.6,110.8v-4.5 M464.6,25.8v4 M526.5,110.8v-4.5 M526.5,25.8v4" stroke="#111" stroke-width="1.4" fill="none"/>
<rect x="93.2" y="25.8" width="436.3" height="85.0" fill="none" stroke="#111" stroke-width="1.6"/>
<text class="s" transform="translate(87.4,37.5) scale(0.9,1)" text-anchor="end">10</text>
<text class="s" transform="translate(87.4,73.2) scale(0.9,1)" text-anchor="end">0</text>
<text class="s" transform="translate(87.4,108.8) scale(0.9,1)" text-anchor="end">-10</text>
<path d="M93.7,167.0H529.5 M93.7,202.7H529.5 M93.7,238.3H529.5" stroke="#222" stroke-width="1.5" stroke-dasharray="1.7 6.2" stroke-dashoffset="-0.3" fill="none"/>
<path d="M155.1,244.8V160.3 M217.0,244.8V160.3 M278.9,244.8V160.3 M340.8,244.8V160.3 M402.7,244.8V160.3 M464.6,244.8V160.3 M526.5,244.8V160.3" stroke="#222" stroke-width="1.5" stroke-dasharray="1.7 6.1" fill="none"/>
<g clip-path="url(#c1)">
<polyline points="93.2,237.2 93.8,237.7 94.4,238.2 95.1,238.6 95.7,239.1 96.3,239.4 96.9,239.8 97.6,240.1 98.2,240.4 98.8,240.6 99.4,240.8 100.1,240.9 100.7,241.1 101.3,241.1 101.9,241.2 102.5,241.2 103.2,241.1 103.8,241.1 104.4,241.0 105.0,240.8 105.7,240.6 106.3,240.4 106.9,240.1 107.5,239.8 108.2,239.5 108.8,239.1 109.4,238.7 110.0,238.2 110.7,237.7 111.3,237.2 111.9,236.6 112.5,236.0 113.1,235.4 113.8,234.7 114.4,234.0 115.0,233.3 115.6,232.6 116.3,231.8 116.9,231.0 117.5,230.1 118.1,229.2 118.8,228.3 119.4,227.4 120.0,226.5 120.6,225.5 121.2,224.5 121.9,223.5 122.5,222.4 123.1,221.4 123.7,220.3 124.4,219.2 125.0,218.1 125.6,216.9 126.2,215.8 126.9,214.6 127.5,213.5 128.1,212.3 128.7,211.1 129.4,209.9 130.0,208.7 130.6,207.5 131.2,206.2 131.8,205.0 132.5,203.8 133.1,202.5 133.7,201.3 134.3,200.1 135.0,198.9 135.6,197.6 136.2,196.4 136.8,195.2 137.5,194.0 138.1,192.8 138.7,191.6 139.3,190.4 139.9,189.3 140.6,188.1 141.2,187.0 141.8,185.8 142.4,184.7 143.1,183.6 143.7,182.6 144.3,181.5 144.9,180.5 145.6,179.5 146.2,178.5 146.8,177.5 147.4,176.6 148.0,175.6 148.7,174.7 149.3,173.9 149.9,173.0 150.5,172.2 151.2,171.5 151.8,170.7 152.4,170.0 153.0,169.3 153.7,168.7 154.3,168.1 154.9,167.5 155.5,166.9 156.2,166.4 156.8,165.9 157.4,165.5 158.0,165.1 158.6,164.7 159.3,164.4 159.9,164.1 160.5,163.8 161.1,163.6 161.8,163.4 162.4,163.3 163.0,163.2 163.6,163.1 164.3,163.1 164.9,163.1 165.5,163.2 166.1,163.3 166.7,163.4 167.4,163.6 168.0,163.8 168.6,164.0 169.2,164.3 169.9,164.6 170.5,165.0 171.1,165.4 171.7,165.8 172.4,166.3 173.0,166.8 173.6,167.3 174.2,167.9 174.9,168.5 175.5,169.1 176.1,169.8 176.7,170.5 177.3,171.3 178.0,172.0 178.6,172.8 179.2,173.7 179.8,174.5 180.5,175.4 181.1,176.3 181.7,177.2 182.3,178.2 183.0,179.2 183.6,180.2 184.2,181.2 184.8,182.3 185.4,183.3 186.1,184.4 186.7,185.5 187.3,186.7 187.9,187.8 188.6,188.9 189.2,190.1 189.8,191.3 190.4,192.5 191.1,193.7 191.7,194.9 192.3,196.1 192.9,197.3 193.5,198.5 194.2,199.8 194.8,201.0 195.4,202.2 196.0,203.5 196.7,204.7 197.3,205.9 197.9,207.1 198.5,208.3 199.2,209.6 199.8,210.8 200.4,212.0 201.0,213.1 201.7,214.3 202.3,215.5 202.9,216.6 203.5,217.8 204.1,218.9 204.8,220.0 205.4,221.1 206.0,222.2 206.6,223.2 207.3,224.2 207.9,225.2 208.5,226.2 209.1,227.2 209.8,228.1 210.4,229.0 211.0,229.9 211.6,230.7 212.2,231.6 212.9,232.4 213.5,233.1 214.1,233.9 214.7,234.6 215.4,235.2 216.0,235.9 216.6,236.5 217.2,237.0 217.9,237.6 218.5,238.1 219.1,238.5 219.7,239.0 220.4,239.4 221.0,239.7 221.6,240.0 222.2,240.3 222.8,240.5 223.5,240.7 224.1,240.9 224.7,241.0 225.3,241.1 226.0,241.2 226.6,241.2 227.2,241.2 227.8,241.1 228.5,241.0 229.1,240.8 229.7,240.7 230.3,240.4 230.9,240.2 231.6,239.9 232.2,239.5 232.8,239.2 233.4,238.8 234.1,238.3 234.7,237.8 235.3,237.3 235.9,236.8 236.6,236.2 237.2,235.6 237.8,234.9 238.4,234.2 239.0,233.5 239.7,232.7 240.3,232.0 240.9,231.2 241.5,230.3 242.2,229.5 242.8,228.6 243.4,227.6 244.0,226.7 244.7,225.7 245.3,224.7 245.9,223.7 246.5,222.7 247.2,221.6 247.8,220.6 248.4,219.5 249.0,218.3 249.6,217.2 250.3,216.1 250.9,214.9 251.5,213.7 252.1,212.6 252.8,211.4 253.4,210.2 254.0,209.0 254.6,207.8 255.3,206.5 255.9,205.3 256.5,204.1 257.1,202.8 257.7,201.6 258.4,200.4 259.0,199.2 259.6,197.9 260.2,196.7 260.9,195.5 261.5,194.3 262.1,193.1 262.7,191.9 263.4,190.7 264.0,189.5 264.6,188.4 265.2,187.2 265.9,186.1 266.5,185.0 267.1,183.9 267.7,182.8 268.3,181.8 269.0,180.7 269.6,179.7 270.2,178.7 270.8,177.7 271.5,176.8 272.1,175.9 272.7,175.0 273.3,174.1 274.0,173.2 274.6,172.4 275.2,171.7 275.8,170.9 276.4,170.2 277.1,169.5 277.7,168.8 278.3,168.2 278.9,167.6 279.6,167.1 280.2,166.5 280.8,166.0 281.4,165.6 282.1,165.2 282.7,164.8 283.3,164.5 283.9,164.2 284.5,163.9 285.2,163.7 285.8,163.5 286.4,163.3 287.0,163.2 287.7,163.2 288.3,163.1 288.9,163.1 289.5,163.2 290.2,163.2 290.8,163.4 291.4,163.5 292.0,163.7 292.7,164.0 293.3,164.2 293.9,164.5 294.5,164.9 295.1,165.3 295.8,165.7 296.4,166.2 297.0,166.7 297.6,167.2 298.3,167.8 298.9,168.4 299.5,169.0 300.1,169.7 300.8,170.4 301.4,171.1 302.0,171.8 302.6,172.6 303.2,173.5 303.9,174.3 304.5,175.2 305.1,176.1 305.7,177.0 306.4,178.0 307.0,178.9 307.6,179.9 308.2,181.0 308.9,182.0 309.5,183.1 310.1,184.2 310.7,185.3 311.4,186.4 312.0,187.5 312.6,188.7 313.2,189.8 313.8,191.0 314.5,192.2 315.1,193.4 315.7,194.6 316.3,195.8 317.0,197.0 317.6,198.2 318.2,199.5 318.8,200.7 319.5,201.9 320.1,203.2 320.7,204.4 321.3,205.6 321.9,206.8 322.6,208.1 323.2,209.3 323.8,210.5 324.4,211.7 325.1,212.9 325.7,214.0 326.3,215.2 326.9,216.4 327.6,217.5 328.2,218.6 328.8,219.7 329.4,220.8 330.0,221.9 330.7,222.9 331.3,224.0 331.9,225.0 332.5,226.0 333.2,226.9 333.8,227.9 334.4,228.8 335.0,229.7 335.7,230.5 336.3,231.4 336.9,232.2 337.5,232.9 338.2,233.7 338.8,234.4 339.4,235.1 340.0,235.7 340.6,236.3 341.3,236.9 341.9,237.4 342.5,238.0 343.1,238.4 343.8,238.9 344.4,239.3 345.0,239.6 345.6,240.0 346.3,240.2 346.9,240.5 347.5,240.7 348.1,240.9 348.7,241.0 349.4,241.1 350.0,241.2 350.6,241.2 351.2,241.2 351.9,241.1 352.5,241.0 353.1,240.9 353.7,240.7 354.4,240.5 355.0,240.2 355.6,240.0 356.2,239.6 356.8,239.3 357.5,238.9 358.1,238.4 358.7,238.0 359.3,237.4 360.0,236.9 360.6,236.3 361.2,235.7 361.8,235.1 362.5,234.4 363.1,233.7 363.7,232.9 364.3,232.2 365.0,231.4 365.6,230.5 366.2,229.7 366.8,228.8 367.4,227.9 368.1,226.9 368.7,226.0 369.3,225.0 369.9,224.0 370.6,222.9 371.2,221.9 371.8,220.8 372.4,219.7 373.1,218.6 373.7,217.5 374.3,216.4 374.9,215.2 375.5,214.0 376.2,212.9 376.8,211.7 377.4,210.5 378.0,209.3 378.7,208.0 379.3,206.8 379.9,205.6 380.5,204.4 381.2,203.1 381.8,201.9 382.4,200.7 383.0,199.5 383.7,198.2 384.3,197.0 384.9,195.8 385.5,194.6 386.1,193.4 386.8,192.2 387.4,191.0 388.0,189.8 388.6,188.7 389.3,187.5 389.9,186.4 390.5,185.3 391.1,184.2 391.8,183.1 392.4,182.0 393.0,181.0 393.6,179.9 394.2,178.9 394.9,178.0 395.5,177.0 396.1,176.1 396.7,175.2 397.4,174.3 398.0,173.4 398.6,172.6 399.2,171.8 399.9,171.1 400.5,170.3 401.1,169.7 401.7,169.0 402.3,168.4 403.0,167.8 403.6,167.2 404.2,166.7 404.8,166.2 405.5,165.7 406.1,165.3 406.7,164.9 407.3,164.5 408.0,164.2 408.6,164.0 409.2,163.7 409.8,163.5 410.5,163.4 411.1,163.2 411.7,163.2 412.3,163.1 412.9,163.1 413.6,163.2 414.2,163.2 414.8,163.3 415.4,163.5 416.1,163.7 416.7,163.9 417.3,164.2 417.9,164.5 418.6,164.8 419.2,165.2 419.8,165.6 420.4,166.1 421.0,166.5 421.7,167.1 422.3,167.6 422.9,168.2 423.5,168.8 424.2,169.5 424.8,170.2 425.4,170.9 426.0,171.7 426.7,172.4 427.3,173.3 427.9,174.1 428.5,175.0 429.2,175.9 429.8,176.8 430.4,177.7 431.0,178.7 431.6,179.7 432.3,180.7 432.9,181.8 433.5,182.8 434.1,183.9 434.8,185.0 435.4,186.1 436.0,187.2 436.6,188.4 437.3,189.5 437.9,190.7 438.5,191.9 439.1,193.1 439.7,194.3 440.4,195.5 441.0,196.7 441.6,197.9 442.2,199.2 442.9,200.4 443.5,201.6 444.1,202.9 444.7,204.1 445.4,205.3 446.0,206.5 446.6,207.8 447.2,209.0 447.8,210.2 448.5,211.4 449.1,212.6 449.7,213.8 450.3,214.9 451.0,216.1 451.6,217.2 452.2,218.4 452.8,219.5 453.5,220.6 454.1,221.6 454.7,222.7 455.3,223.7 456.0,224.7 456.6,225.7 457.2,226.7 457.8,227.6 458.4,228.6 459.1,229.5 459.7,230.3 460.3,231.2 460.9,232.0 461.6,232.8 462.2,233.5 462.8,234.2 463.4,234.9 464.1,235.6 464.7,236.2 465.3,236.8 465.9,237.3 466.5,237.8 467.2,238.3 467.8,238.8 468.4,239.2 469.0,239.5 469.7,239.9 470.3,240.2 470.9,240.4 471.5,240.7 472.2,240.8 472.8,241.0 473.4,241.1 474.0,241.2 474.7,241.2 475.3,241.2 475.9,241.1 476.5,241.0 477.1,240.9 477.8,240.7 478.4,240.5 479.0,240.3 479.6,240.0 480.3,239.7 480.9,239.4 481.5,239.0 482.1,238.5 482.8,238.1 483.4,237.6 484.0,237.0 484.6,236.5 485.2,235.9 485.9,235.2 486.5,234.6 487.1,233.8 487.7,233.1 488.4,232.4 489.0,231.6 489.6,230.7 490.2,229.9 490.9,229.0 491.5,228.1 492.1,227.2 492.7,226.2 493.3,225.2 494.0,224.2 494.6,223.2 495.2,222.1 495.8,221.1 496.5,220.0 497.1,218.9 497.7,217.8 498.3,216.6 499.0,215.5 499.6,214.3 500.2,213.1 500.8,212.0 501.5,210.8 502.1,209.6 502.7,208.3 503.3,207.1 503.9,205.9 504.6,204.7 505.2,203.4 505.8,202.2 506.4,201.0 507.1,199.8 507.7,198.5 508.3,197.3 508.9,196.1 509.6,194.9 510.2,193.7 510.8,192.5 511.4,191.3 512.0,190.1 512.7,188.9 513.3,187.8 513.9,186.6 514.5,185.5 515.2,184.4 515.8,183.3 516.4,182.3 517.0,181.2 517.7,180.2 518.3,179.2 518.9,178.2 519.5,177.2 520.2,176.3 520.8,175.4 521.4,174.5 522.0,173.7 522.6,172.8 523.3,172.0 523.9,171.3 524.5,170.5 525.1,169.8 525.8,169.1 526.4,168.5 527.0,167.9 527.6,167.3 528.3,166.8 528.9,166.3 529.5,165.8" fill="none" stroke="#111" stroke-width="1.15"/>
<polygon points="93.2,212.8 93.8,213.0 94.4,213.1 95.1,213.2 95.7,213.3 96.3,213.4 96.9,213.4 97.6,213.5 98.2,213.6 98.8,213.6 99.4,213.7 100.1,213.7 100.7,213.7 101.3,213.7 101.9,213.7 102.5,213.7 103.2,213.7 103.8,213.7 104.4,213.7 105.0,213.7 105.7,213.6 106.3,213.6 106.9,213.5 107.5,213.5 108.2,213.4 108.8,213.3 109.4,213.2 110.0,213.1 110.7,213.0 111.3,212.9 111.9,212.8 112.5,212.6 113.1,212.5 113.8,212.3 114.4,212.1 115.0,211.9 115.6,211.7 116.3,211.4 116.9,211.2 117.5,210.9 118.1,210.6 118.8,210.3 119.4,210.0 120.0,209.6 120.6,209.3 121.2,208.9 121.9,208.5 122.5,208.1 123.1,207.7 123.7,207.3 124.4,206.8 125.0,206.4 125.6,205.9 126.2,205.4 126.9,204.9 127.5,204.4 128.1,203.9 128.7,203.4 129.4,202.9 130.0,202.4 130.6,201.8 131.2,201.3 131.8,200.7 132.5,200.2 133.1,199.7 133.7,199.1 134.3,198.6 135.0,198.1 135.6,197.5 136.2,197.0 136.8,196.5 137.5,196.0 138.1,195.5 138.7,195.0 139.3,194.5 139.9,194.0 140.6,193.5 141.2,193.0 141.8,192.5 142.4,192.1 143.1,191.6 143.7,191.2 144.3,190.8 144.9,190.4 145.6,190.0 146.2,189.6 146.8,189.2 147.4,188.8 148.0,188.4 148.7,188.1 149.3,187.7 149.9,187.4 150.5,187.1 151.2,186.8 151.8,186.5 152.4,186.2 153.0,185.9 153.7,185.7 154.3,185.4 154.9,185.2 155.5,185.0 156.2,184.8 156.8,184.6 157.4,184.4 158.0,184.2 158.6,184.1 159.3,183.9 159.9,183.8 160.5,183.7 161.1,183.6 161.8,183.6 162.4,183.5 163.0,183.5 163.6,183.4 164.3,183.4 164.9,183.4 165.5,183.5 166.1,183.5 166.7,183.5 167.4,183.6 168.0,183.7 168.6,183.8 169.2,183.9 169.9,184.0 170.5,184.2 171.1,184.3 171.7,184.5 172.4,184.7 173.0,184.8 173.6,185.1 174.2,185.3 174.9,185.5 175.5,185.7 176.1,186.0 176.7,186.3 177.3,186.6 178.0,186.8 178.6,187.1 179.2,187.5 179.8,187.8 180.5,188.1 181.1,188.5 181.7,188.8 182.3,189.2 183.0,189.6 183.6,190.0 184.2,190.4 184.8,190.8 185.4,191.2 186.1,191.6 186.7,192.0 187.3,192.5 187.9,193.0 188.6,193.4 189.2,193.9 189.8,194.4 190.4,194.9 191.1,195.4 191.7,195.9 192.3,196.4 192.9,196.9 193.5,197.4 194.2,197.9 194.8,198.5 195.4,199.0 196.0,199.5 196.7,200.1 197.3,200.6 197.9,201.1 198.5,201.7 199.2,202.2 199.8,202.7 200.4,203.3 201.0,203.8 201.7,204.3 202.3,204.8 202.9,205.3 203.5,205.8 204.1,206.3 204.8,206.7 205.4,207.2 206.0,207.6 206.6,208.0 207.3,208.5 207.9,208.9 208.5,209.2 209.1,209.6 209.8,209.9 210.4,210.3 211.0,210.6 211.6,210.9 212.2,211.1 212.9,211.4 213.5,211.6 214.1,211.9 214.7,212.1 215.4,212.3 216.0,212.5 216.6,212.6 217.2,212.8 217.9,212.9 218.5,213.0 219.1,213.2 219.7,213.3 220.4,213.4 221.0,213.4 221.6,213.5 222.2,213.6 222.8,213.6 223.5,213.7 224.1,213.7 224.7,213.7 225.3,213.7 226.0,213.7 226.6,213.7 227.2,213.7 227.8,213.7 228.5,213.7 229.1,213.7 229.7,213.7 230.3,213.6 230.9,213.6 231.6,213.5 232.2,213.4 232.8,213.4 233.4,213.3 234.1,213.2 234.7,213.1 235.3,212.9 235.9,212.8 236.6,212.7 237.2,212.5 237.8,212.3 238.4,212.1 239.0,211.9 239.7,211.7 240.3,211.5 240.9,211.2 241.5,211.0 242.2,210.7 242.8,210.4 243.4,210.1 244.0,209.7 244.7,209.4 245.3,209.0 245.9,208.6 246.5,208.2 247.2,207.8 247.8,207.4 248.4,206.9 249.0,206.5 249.6,206.0 250.3,205.5 250.9,205.1 251.5,204.6 252.1,204.0 252.8,203.5 253.4,203.0 254.0,202.5 254.6,201.9 255.3,201.4 255.9,200.9 256.5,200.3 257.1,199.8 257.7,199.3 258.4,198.7 259.0,198.2 259.6,197.7 260.2,197.1 260.9,196.6 261.5,196.1 262.1,195.6 262.7,195.1 263.4,194.6 264.0,194.1 264.6,193.6 265.2,193.1 265.9,192.7 266.5,192.2 267.1,191.8 267.7,191.3 268.3,190.9 269.0,190.5 269.6,190.0 270.2,189.6 270.8,189.3 271.5,188.9 272.1,188.5 272.7,188.2 273.3,187.8 274.0,187.5 274.6,187.1 275.2,186.8 275.8,186.5 276.4,186.2 277.1,186.0 277.7,185.7 278.3,185.5 278.9,185.2 279.6,185.0 280.2,184.8 280.8,184.6 281.4,184.4 282.1,184.3 282.7,184.1 283.3,184.0 283.9,183.9 284.5,183.7 285.2,183.7 285.8,183.6 286.4,183.5 287.0,183.5 287.7,183.4 288.3,183.4 288.9,183.4 289.5,183.4 290.2,183.5 290.8,183.5 291.4,183.6 292.0,183.7 292.7,183.8 293.3,183.9 293.9,184.0 294.5,184.1 295.1,184.3 295.8,184.4 296.4,184.6 297.0,184.8 297.6,185.0 298.3,185.2 298.9,185.4 299.5,185.7 300.1,185.9 300.8,186.2 301.4,186.5 302.0,186.8 302.6,187.1 303.2,187.4 303.9,187.7 304.5,188.0 305.1,188.4 305.7,188.7 306.4,189.1 307.0,189.5 307.6,189.9 308.2,190.3 308.9,190.7 309.5,191.1 310.1,191.5 310.7,191.9 311.4,192.4 312.0,192.8 312.6,193.3 313.2,193.8 313.8,194.2 314.5,194.7 315.1,195.2 315.7,195.7 316.3,196.2 317.0,196.8 317.6,197.3 318.2,197.8 318.8,198.3 319.5,198.9 320.1,199.4 320.7,199.9 321.3,200.5 321.9,201.0 322.6,201.5 323.2,202.1 323.8,202.6 324.4,203.1 325.1,203.7 325.7,204.2 326.3,204.7 326.9,205.2 327.6,205.7 328.2,206.2 328.8,206.6 329.4,207.1 330.0,207.5 330.7,207.9 331.3,208.4 331.9,208.8 332.5,209.1 333.2,209.5 333.8,209.9 334.4,210.2 335.0,210.5 335.7,210.8 336.3,211.1 336.9,211.3 337.5,211.6 338.2,211.8 338.8,212.0 339.4,212.2 340.0,212.4 340.6,212.6 341.3,212.7 341.9,212.9 342.5,213.0 343.1,213.1 343.8,213.2 344.4,213.3 345.0,213.4 345.6,213.5 346.3,213.5 346.9,213.6 347.5,213.6 348.1,213.7 348.7,213.7 349.4,213.7 350.0,213.7 350.6,213.7 351.2,213.7 351.9,213.7 352.5,213.7 353.1,213.7 353.7,213.7 354.4,213.6 355.0,213.6 355.6,213.5 356.2,213.4 356.8,213.4 357.5,213.3 358.1,213.2 358.7,213.1 359.3,213.0 360.0,212.8 360.6,212.7 361.2,212.5 361.8,212.4 362.5,212.2 363.1,212.0 363.7,211.8 364.3,211.5 365.0,211.3 365.6,211.0 366.2,210.7 366.8,210.4 367.4,210.1 368.1,209.8 368.7,209.5 369.3,209.1 369.9,208.7 370.6,208.3 371.2,207.9 371.8,207.5 372.4,207.1 373.1,206.6 373.7,206.1 374.3,205.7 374.9,205.2 375.5,204.7 376.2,204.2 376.8,203.7 377.4,203.1 378.0,202.6 378.7,202.1 379.3,201.5 379.9,201.0 380.5,200.5 381.2,199.9 381.8,199.4 382.4,198.9 383.0,198.3 383.7,197.8 384.3,197.3 384.9,196.7 385.5,196.2 386.1,195.7 386.8,195.2 387.4,194.7 388.0,194.2 388.6,193.7 389.3,193.2 389.9,192.8 390.5,192.3 391.1,191.9 391.8,191.4 392.4,191.0 393.0,190.6 393.6,190.1 394.2,189.7 394.9,189.4 395.5,189.0 396.1,188.6 396.7,188.2 397.4,187.9 398.0,187.5 398.6,187.2 399.2,186.9 399.9,186.6 400.5,186.3 401.1,186.0 401.7,185.8 402.3,185.5 403.0,185.3 403.6,185.1 404.2,184.9 404.8,184.7 405.5,184.5 406.1,184.3 406.7,184.1 407.3,184.0 408.0,183.9 408.6,183.8 409.2,183.7 409.8,183.6 410.5,183.5 411.1,183.5 411.7,183.4 412.3,183.4 412.9,183.4 413.6,183.4 414.2,183.5 414.8,183.5 415.4,183.6 416.1,183.6 416.7,183.7 417.3,183.8 417.9,184.0 418.6,184.1 419.2,184.2 419.8,184.4 420.4,184.6 421.0,184.8 421.7,185.0 422.3,185.2 422.9,185.4 423.5,185.6 424.2,185.9 424.8,186.1 425.4,186.4 426.0,186.7 426.7,187.0 427.3,187.3 427.9,187.6 428.5,188.0 429.2,188.3 429.8,188.7 430.4,189.0 431.0,189.4 431.6,189.8 432.3,190.2 432.9,190.6 433.5,191.0 434.1,191.4 434.8,191.8 435.4,192.3 436.0,192.7 436.6,193.2 437.3,193.7 437.9,194.1 438.5,194.6 439.1,195.1 439.7,195.6 440.4,196.1 441.0,196.6 441.6,197.1 442.2,197.7 442.9,198.2 443.5,198.7 444.1,199.3 444.7,199.8 445.4,200.3 446.0,200.9 446.6,201.4 447.2,202.0 447.8,202.5 448.5,203.0 449.1,203.5 449.7,204.1 450.3,204.6 451.0,205.1 451.6,205.6 452.2,206.0 452.8,206.5 453.5,207.0 454.1,207.4 454.7,207.8 455.3,208.3 456.0,208.7 456.6,209.0 457.2,209.4 457.8,209.8 458.4,210.1 459.1,210.4 459.7,210.7 460.3,211.0 460.9,211.3 461.6,211.5 462.2,211.8 462.8,212.0 463.4,212.2 464.1,212.4 464.7,212.5 465.3,212.7 465.9,212.9 466.5,213.0 467.2,213.1 467.8,213.2 468.4,213.3 469.0,213.4 469.7,213.5 470.3,213.5 470.9,213.6 471.5,213.6 472.2,213.7 472.8,213.7 473.4,213.7 474.0,213.7 474.7,213.7 475.3,213.7 475.9,213.7 476.5,213.7 477.1,213.7 477.8,213.7 478.4,213.6 479.0,213.6 479.6,213.5 480.3,213.5 480.9,213.4 481.5,213.3 482.1,213.2 482.8,213.1 483.4,213.0 484.0,212.9 484.6,212.7 485.2,212.6 485.9,212.4 486.5,212.2 487.1,212.0 487.7,211.8 488.4,211.6 489.0,211.3 489.6,211.1 490.2,210.8 490.9,210.5 491.5,210.2 492.1,209.9 492.7,209.5 493.3,209.2 494.0,208.8 494.6,208.4 495.2,208.0 495.8,207.6 496.5,207.2 497.1,206.7 497.7,206.2 498.3,205.8 499.0,205.3 499.6,204.8 500.2,204.3 500.8,203.8 501.5,203.3 502.1,202.7 502.7,202.2 503.3,201.7 503.9,201.1 504.6,200.6 505.2,200.1 505.8,199.5 506.4,199.0 507.1,198.4 507.7,197.9 508.3,197.4 508.9,196.9 509.6,196.3 510.2,195.8 510.8,195.3 511.4,194.8 512.0,194.3 512.7,193.8 513.3,193.4 513.9,192.9 514.5,192.4 515.2,192.0 515.8,191.5 516.4,191.1 517.0,190.7 517.7,190.2 518.3,189.8 518.9,189.4 519.5,189.1 520.2,188.7 520.8,188.3 521.4,188.0 522.0,187.6 522.6,187.3 523.3,187.0 523.9,186.7 524.5,186.4 525.1,186.1 525.8,185.8 526.4,185.6 527.0,185.3 527.6,185.1 528.3,184.9 528.9,184.7 529.5,184.5 529.5,190.7 528.9,190.8 528.3,191.0 527.6,191.1 527.0,191.3 526.4,191.4 525.8,191.6 525.1,191.8 524.5,192.0 523.9,192.3 523.3,192.5 522.6,192.8 522.0,193.0 521.4,193.3 520.8,193.6 520.2,194.0 519.5,194.3 518.9,194.7 518.3,195.1 517.7,195.5 517.0,195.9 516.4,196.3 515.8,196.7 515.2,197.2 514.5,197.7 513.9,198.1 513.3,198.6 512.7,199.1 512.0,199.6 511.4,200.1 510.8,200.7 510.2,201.2 509.6,201.7 508.9,202.3 508.3,202.8 507.7,203.3 507.1,203.9 506.4,204.4 505.8,204.9 505.2,205.5 504.6,206.0 503.9,206.5 503.3,207.1 502.7,207.6 502.1,208.1 501.5,208.6 500.8,209.1 500.2,209.6 499.6,210.0 499.0,210.5 498.3,211.0 497.7,211.4 497.1,211.9 496.5,212.3 495.8,212.7 495.2,213.1 494.6,213.6 494.0,214.0 493.3,214.3 492.7,214.7 492.1,215.1 491.5,215.4 490.9,215.8 490.2,216.1 489.6,216.4 489.0,216.8 488.4,217.1 487.7,217.4 487.1,217.6 486.5,217.9 485.9,218.2 485.2,218.4 484.6,218.6 484.0,218.8 483.4,219.0 482.8,219.2 482.1,219.4 481.5,219.6 480.9,219.7 480.3,219.9 479.6,220.0 479.0,220.1 478.4,220.2 477.8,220.3 477.1,220.3 476.5,220.4 475.9,220.4 475.3,220.4 474.7,220.4 474.0,220.4 473.4,220.4 472.8,220.4 472.2,220.3 471.5,220.2 470.9,220.1 470.3,220.0 469.7,219.9 469.0,219.8 468.4,219.6 467.8,219.5 467.2,219.3 466.5,219.1 465.9,218.9 465.3,218.7 464.7,218.4 464.1,218.2 463.4,217.9 462.8,217.7 462.2,217.4 461.6,217.1 460.9,216.8 460.3,216.4 459.7,216.1 459.1,215.8 458.4,215.4 457.8,215.0 457.2,214.7 456.6,214.3 456.0,213.9 455.3,213.5 454.7,213.1 454.1,212.6 453.5,212.2 452.8,211.7 452.2,211.3 451.6,210.8 451.0,210.3 450.3,209.9 449.7,209.4 449.1,208.9 448.5,208.4 447.8,207.9 447.2,207.3 446.6,206.8 446.0,206.3 445.4,205.8 444.7,205.2 444.1,204.7 443.5,204.1 442.9,203.6 442.2,203.1 441.6,202.5 441.0,202.0 440.4,201.5 439.7,200.9 439.1,200.4 438.5,199.9 437.9,199.4 437.3,198.9 436.6,198.4 436.0,197.9 435.4,197.4 434.8,197.0 434.1,196.5 433.5,196.1 432.9,195.7 432.3,195.3 431.6,194.9 431.0,194.6 430.4,194.2 429.8,193.9 429.2,193.5 428.5,193.2 427.9,193.0 427.3,192.7 426.7,192.4 426.0,192.2 425.4,192.0 424.8,191.8 424.2,191.6 423.5,191.4 422.9,191.2 422.3,191.1 421.7,191.0 421.0,190.8 420.4,190.7 419.8,190.6 419.2,190.5 418.6,190.5 417.9,190.4 417.3,190.3 416.7,190.3 416.1,190.2 415.4,190.2 414.8,190.2 414.2,190.1 413.6,190.1 412.9,190.1 412.3,190.1 411.7,190.1 411.1,190.2 410.5,190.2 409.8,190.2 409.2,190.3 408.6,190.3 408.0,190.4 407.3,190.4 406.7,190.5 406.1,190.6 405.5,190.7 404.8,190.8 404.2,190.9 403.6,191.1 403.0,191.2 402.3,191.4 401.7,191.6 401.1,191.8 400.5,192.0 399.9,192.2 399.2,192.4 398.6,192.7 398.0,193.0 397.4,193.3 396.7,193.6 396.1,193.9 395.5,194.2 394.9,194.6 394.2,195.0 393.6,195.4 393.0,195.8 392.4,196.2 391.8,196.6 391.1,197.1 390.5,197.5 389.9,198.0 389.3,198.5 388.6,199.0 388.0,199.5 387.4,200.0 386.8,200.5 386.1,201.1 385.5,201.6 384.9,202.1 384.3,202.7 383.7,203.2 383.0,203.7 382.4,204.3 381.8,204.8 381.2,205.3 380.5,205.9 379.9,206.4 379.3,206.9 378.7,207.4 378.0,208.0 377.4,208.5 376.8,209.0 376.2,209.4 375.5,209.9 374.9,210.4 374.3,210.9 373.7,211.3 373.1,211.8 372.4,212.2 371.8,212.6 371.2,213.0 370.6,213.5 369.9,213.9 369.3,214.2 368.7,214.6 368.1,215.0 367.4,215.4 366.8,215.7 366.2,216.0 365.6,216.4 365.0,216.7 364.3,217.0 363.7,217.3 363.1,217.6 362.5,217.8 361.8,218.1 361.2,218.3 360.6,218.6 360.0,218.8 359.3,219.0 358.7,219.2 358.1,219.4 357.5,219.5 356.8,219.7 356.2,219.8 355.6,220.0 355.0,220.1 354.4,220.2 353.7,220.3 353.1,220.3 352.5,220.4 351.9,220.4 351.2,220.4 350.6,220.4 350.0,220.4 349.4,220.4 348.7,220.4 348.1,220.3 347.5,220.2 346.9,220.2 346.3,220.1 345.6,219.9 345.0,219.8 344.4,219.7 343.8,219.5 343.1,219.3 342.5,219.1 341.9,218.9 341.3,218.7 340.6,218.5 340.0,218.3 339.4,218.0 338.8,217.7 338.2,217.4 337.5,217.2 336.9,216.8 336.3,216.5 335.7,216.2 335.0,215.9 334.4,215.5 333.8,215.1 333.2,214.8 332.5,214.4 331.9,214.0 331.3,213.6 330.7,213.2 330.0,212.7 329.4,212.3 328.8,211.8 328.2,211.4 327.6,210.9 326.9,210.5 326.3,210.0 325.7,209.5 325.1,209.0 324.4,208.5 323.8,208.0 323.2,207.5 322.6,206.9 321.9,206.4 321.3,205.9 320.7,205.4 320.1,204.8 319.5,204.3 318.8,203.7 318.2,203.2 317.6,202.7 317.0,202.1 316.3,201.6 315.7,201.1 315.1,200.5 314.5,200.0 313.8,199.5 313.2,199.0 312.6,198.5 312.0,198.0 311.4,197.6 310.7,197.1 310.1,196.7 309.5,196.2 308.9,195.8 308.2,195.4 307.6,195.0 307.0,194.6 306.4,194.3 305.7,193.9 305.1,193.6 304.5,193.3 303.9,193.0 303.2,192.8 302.6,192.5 302.0,192.3 301.4,192.0 300.8,191.8 300.1,191.6 299.5,191.4 298.9,191.3 298.3,191.1 297.6,191.0 297.0,190.9 296.4,190.7 295.8,190.6 295.1,190.6 294.5,190.5 293.9,190.4 293.3,190.3 292.7,190.3 292.0,190.2 291.4,190.2 290.8,190.2 290.2,190.1 289.5,190.1 288.9,190.1 288.3,190.1 287.7,190.1 287.0,190.2 286.4,190.2 285.8,190.2 285.2,190.2 284.5,190.3 283.9,190.3 283.3,190.4 282.7,190.5 282.1,190.6 281.4,190.7 280.8,190.8 280.2,190.9 279.6,191.0 278.9,191.2 278.3,191.3 277.7,191.5 277.1,191.7 276.4,191.9 275.8,192.1 275.2,192.4 274.6,192.6 274.0,192.9 273.3,193.2 272.7,193.5 272.1,193.8 271.5,194.2 270.8,194.5 270.2,194.9 269.6,195.3 269.0,195.7 268.3,196.1 267.7,196.5 267.1,197.0 266.5,197.4 265.9,197.9 265.2,198.4 264.6,198.9 264.0,199.4 263.4,199.9 262.7,200.4 262.1,200.9 261.5,201.5 260.9,202.0 260.2,202.5 259.6,203.1 259.0,203.6 258.4,204.1 257.7,204.7 257.1,205.2 256.5,205.7 255.9,206.3 255.3,206.8 254.6,207.3 254.0,207.8 253.4,208.3 252.8,208.8 252.1,209.3 251.5,209.8 250.9,210.3 250.3,210.7 249.6,211.2 249.0,211.7 248.4,212.1 247.8,212.5 247.2,212.9 246.5,213.4 245.9,213.8 245.3,214.2 244.7,214.5 244.0,214.9 243.4,215.3 242.8,215.6 242.2,216.0 241.5,216.3 240.9,216.6 240.3,216.9 239.7,217.2 239.0,217.5 238.4,217.8 237.8,218.0 237.2,218.3 236.6,218.5 235.9,218.7 235.3,219.0 234.7,219.1 234.1,219.3 233.4,219.5 232.8,219.7 232.2,219.8 231.6,219.9 230.9,220.1 230.3,220.2 229.7,220.2 229.1,220.3 228.5,220.4 227.8,220.4 227.2,220.4 226.6,220.4 226.0,220.4 225.3,220.4 224.7,220.4 224.1,220.3 223.5,220.3 222.8,220.2 222.2,220.1 221.6,220.0 221.0,219.8 220.4,219.7 219.7,219.6 219.1,219.4 218.5,219.2 217.9,219.0 217.2,218.8 216.6,218.6 216.0,218.3 215.4,218.1 214.7,217.8 214.1,217.5 213.5,217.2 212.9,216.9 212.2,216.6 211.6,216.3 211.0,215.9 210.4,215.6 209.8,215.2 209.1,214.9 208.5,214.5 207.9,214.1 207.3,213.7 206.6,213.3 206.0,212.8 205.4,212.4 204.8,212.0 204.1,211.5 203.5,211.0 202.9,210.6 202.3,210.1 201.7,209.6 201.0,209.1 200.4,208.6 199.8,208.1 199.2,207.6 198.5,207.1 197.9,206.5 197.3,206.0 196.7,205.5 196.0,204.9 195.4,204.4 194.8,203.9 194.2,203.3 193.5,202.8 192.9,202.3 192.3,201.7 191.7,201.2 191.1,200.7 190.4,200.1 189.8,199.6 189.2,199.1 188.6,198.6 187.9,198.1 187.3,197.7 186.7,197.2 186.1,196.8 185.4,196.3 184.8,195.9 184.2,195.5 183.6,195.1 183.0,194.7 182.3,194.4 181.7,194.0 181.1,193.7 180.5,193.4 179.8,193.1 179.2,192.8 178.6,192.6 178.0,192.3 177.3,192.1 176.7,191.9 176.1,191.7 175.5,191.5 174.9,191.3 174.2,191.2 173.6,191.0 173.0,190.9 172.4,190.8 171.7,190.7 171.1,190.6 170.5,190.5 169.9,190.4 169.2,190.4 168.6,190.3 168.0,190.2 167.4,190.2 166.7,190.2 166.1,190.2 165.5,190.1 164.9,190.1 164.3,190.1 163.6,190.1 163.0,190.1 162.4,190.2 161.8,190.2 161.1,190.2 160.5,190.3 159.9,190.3 159.3,190.4 158.6,190.5 158.0,190.6 157.4,190.7 156.8,190.8 156.2,190.9 155.5,191.0 154.9,191.1 154.3,191.3 153.7,191.5 153.0,191.7 152.4,191.9 151.8,192.1 151.2,192.3 150.5,192.6 149.9,192.8 149.3,193.1 148.7,193.4 148.0,193.7 147.4,194.1 146.8,194.4 146.2,194.8 145.6,195.2 144.9,195.6 144.3,196.0 143.7,196.4 143.1,196.9 142.4,197.3 141.8,197.8 141.2,198.3 140.6,198.8 139.9,199.3 139.3,199.8 138.7,200.3 138.1,200.8 137.5,201.3 136.8,201.9 136.2,202.4 135.6,202.9 135.0,203.5 134.3,204.0 133.7,204.6 133.1,205.1 132.5,205.6 131.8,206.1 131.2,206.7 130.6,207.2 130.0,207.7 129.4,208.2 128.7,208.7 128.1,209.2 127.5,209.7 126.9,210.2 126.2,210.6 125.6,211.1 125.0,211.5 124.4,212.0 123.7,212.4 123.1,212.8 122.5,213.3 121.9,213.7 121.2,214.1 120.6,214.4 120.0,214.8 119.4,215.2 118.8,215.5 118.1,215.9 117.5,216.2 116.9,216.5 116.3,216.8 115.6,217.1 115.0,217.4 114.4,217.7 113.8,218.0 113.1,218.2 112.5,218.5 111.9,218.7 111.3,218.9 110.7,219.1 110.0,219.3 109.4,219.5 108.8,219.6 108.2,219.8 107.5,219.9 106.9,220.0 106.3,220.1 105.7,220.2 105.0,220.3 104.4,220.4 103.8,220.4 103.2,220.4 102.5,220.4 101.9,220.4 101.3,220.4 100.7,220.4 100.1,220.3 99.4,220.3 98.8,220.2 98.2,220.1 97.6,220.0 96.9,219.9 96.3,219.7 95.7,219.6 95.1,219.4 94.4,219.2 93.8,219.0 93.2,218.8" fill="#000"/>
</g>
<path d="M93.2,167.0h4.5 M529.5,167.0h-4 M93.2,202.7h4.5 M529.5,202.7h-4 M93.2,238.3h4.5 M529.5,238.3h-4 M155.1,245.0v-4.5 M155.1,160.3v4 M217.0,245.0v-4.5 M217.0,160.3v4 M278.9,245.0v-4.5 M278.9,160.3v4 M340.8,245.0v-4.5 M340.8,160.3v4 M402.7,245.0v-4.5 M402.7,160.3v4 M464.6,245.0v-4.5 M464.6,160.3v4 M526.5,245.0v-4.5 M526.5,160.3v4" stroke="#111" stroke-width="1.4" fill="none"/>
<rect x="93.2" y="160.3" width="436.3" height="84.69999999999999" fill="none" stroke="#111" stroke-width="1.6"/>
<text class="s" transform="translate(87.4,171.9) scale(0.9,1)" text-anchor="end">10</text>
<text class="s" transform="translate(87.4,207.6) scale(0.9,1)" text-anchor="end">0</text>
<text class="s" transform="translate(87.4,243.2) scale(0.9,1)" text-anchor="end">10</text>
<path d="M93.7,301.1H529.5 M93.7,336.7H529.5 M93.7,372.3H529.5" stroke="#222" stroke-width="1.5" stroke-dasharray="1.7 6.2" stroke-dashoffset="-0.3" fill="none"/>
<path d="M155.1,379.0V294.2 M217.0,379.0V294.2 M278.9,379.0V294.2 M340.8,379.0V294.2 M402.7,379.0V294.2 M464.6,379.0V294.2 M526.5,379.0V294.2" stroke="#222" stroke-width="1.5" stroke-dasharray="1.7 6.1" fill="none"/>
<g clip-path="url(#c2)">
<polyline points="93.2,303.8 93.8,304.5 94.4,305.2 95.1,305.9 95.7,306.7 96.3,307.6 96.9,308.4 97.6,309.3 98.2,310.2 98.8,311.1 99.4,312.1 100.1,313.1 100.7,314.1 101.3,315.1 101.9,316.1 102.5,317.2 103.2,318.3 103.8,319.4 104.4,320.5 105.0,321.6 105.7,322.8 106.3,324.0 106.9,325.1 107.5,326.3 108.2,327.5 108.8,328.7 109.4,329.9 110.0,331.1 110.7,332.4 111.3,333.6 111.9,334.8 112.5,336.1 113.1,337.3 113.8,338.5 114.4,339.7 115.0,341.0 115.6,342.2 116.3,343.4 116.9,344.6 117.5,345.8 118.1,347.0 118.8,348.2 119.4,349.3 120.0,350.5 120.6,351.6 121.2,352.8 121.9,353.9 122.5,354.9 123.1,356.0 123.7,357.1 124.4,358.1 125.0,359.1 125.6,360.1 126.2,361.1 126.9,362.0 127.5,362.9 128.1,363.8 128.7,364.6 129.4,365.5 130.0,366.3 130.6,367.0 131.2,367.8 131.8,368.5 132.5,369.2 133.1,369.8 133.7,370.4 134.3,371.0 135.0,371.5 135.6,372.0 136.2,372.5 136.8,372.9 137.5,373.3 138.1,373.7 138.7,374.0 139.3,374.3 139.9,374.6 140.6,374.8 141.2,374.9 141.8,375.1 142.4,375.2 143.1,375.2 143.7,375.2 144.3,375.2 144.9,375.2 145.6,375.1 146.2,374.9 146.8,374.7 147.4,374.5 148.0,374.3 148.7,374.0 149.3,373.7 149.9,373.3 150.5,372.9 151.2,372.4 151.8,372.0 152.4,371.5 153.0,370.9 153.7,370.3 154.3,369.7 154.9,369.1 155.5,368.4 156.2,367.7 156.8,366.9 157.4,366.2 158.0,365.4 158.6,364.5 159.3,363.7 159.9,362.8 160.5,361.9 161.1,360.9 161.8,359.9 162.4,359.0 163.0,357.9 163.6,356.9 164.3,355.9 164.9,354.8 165.5,353.7 166.1,352.6 166.7,351.5 167.4,350.3 168.0,349.2 168.6,348.0 169.2,346.8 169.9,345.6 170.5,344.4 171.1,343.2 171.7,342.0 172.4,340.8 173.0,339.6 173.6,338.3 174.2,337.1 174.9,335.9 175.5,334.6 176.1,333.4 176.7,332.2 177.3,331.0 178.0,329.8 178.6,328.5 179.2,327.3 179.8,326.1 180.5,325.0 181.1,323.8 181.7,322.6 182.3,321.5 183.0,320.3 183.6,319.2 184.2,318.1 184.8,317.0 185.4,316.0 186.1,314.9 186.7,313.9 187.3,312.9 187.9,311.9 188.6,311.0 189.2,310.1 189.8,309.2 190.4,308.3 191.1,307.4 191.7,306.6 192.3,305.8 192.9,305.1 193.5,304.3 194.2,303.7 194.8,303.0 195.4,302.4 196.0,301.8 196.7,301.2 197.3,300.7 197.9,300.2 198.5,299.7 199.2,299.3 199.8,298.9 200.4,298.6 201.0,298.3 201.7,298.0 202.3,297.8 202.9,297.6 203.5,297.4 204.1,297.3 204.8,297.2 205.4,297.2 206.0,297.2 206.6,297.2 207.3,297.3 207.9,297.4 208.5,297.5 209.1,297.7 209.8,298.0 210.4,298.2 211.0,298.5 211.6,298.9 212.2,299.3 212.9,299.7 213.5,300.1 214.1,300.6 214.7,301.1 215.4,301.7 216.0,302.3 216.6,302.9 217.2,303.6 217.9,304.3 218.5,305.0 219.1,305.8 219.7,306.5 220.4,307.4 221.0,308.2 221.6,309.1 222.2,310.0 222.8,310.9 223.5,311.9 224.1,312.8 224.7,313.8 225.3,314.8 226.0,315.9 226.6,316.9 227.2,318.0 227.8,319.1 228.5,320.2 229.1,321.4 229.7,322.5 230.3,323.7 230.9,324.8 231.6,326.0 232.2,327.2 232.8,328.4 233.4,329.6 234.1,330.9 234.7,332.1 235.3,333.3 235.9,334.5 236.6,335.8 237.2,337.0 237.8,338.2 238.4,339.5 239.0,340.7 239.7,341.9 240.3,343.1 240.9,344.3 241.5,345.5 242.2,346.7 242.8,347.9 243.4,349.1 244.0,350.2 244.7,351.4 245.3,352.5 245.9,353.6 246.5,354.7 247.2,355.8 247.8,356.8 248.4,357.9 249.0,358.9 249.6,359.9 250.3,360.8 250.9,361.8 251.5,362.7 252.1,363.6 252.8,364.4 253.4,365.3 254.0,366.1 254.6,366.9 255.3,367.6 255.9,368.3 256.5,369.0 257.1,369.7 257.7,370.3 258.4,370.9 259.0,371.4 259.6,371.9 260.2,372.4 260.9,372.8 261.5,373.2 262.1,373.6 262.7,373.9 263.4,374.2 264.0,374.5 264.6,374.7 265.2,374.9 265.9,375.0 266.5,375.1 267.1,375.2 267.7,375.2 268.3,375.2 269.0,375.2 269.6,375.1 270.2,375.0 270.8,374.8 271.5,374.6 272.1,374.3 272.7,374.1 273.3,373.7 274.0,373.4 274.6,373.0 275.2,372.6 275.8,372.1 276.4,371.6 277.1,371.0 277.7,370.5 278.3,369.9 278.9,369.2 279.6,368.6 280.2,367.8 280.8,367.1 281.4,366.3 282.1,365.5 282.7,364.7 283.3,363.9 283.9,363.0 284.5,362.1 285.2,361.1 285.8,360.2 286.4,359.2 287.0,358.2 287.7,357.2 288.3,356.1 288.9,355.0 289.5,354.0 290.2,352.9 290.8,351.7 291.4,350.6 292.0,349.4 292.7,348.3 293.3,347.1 293.9,345.9 294.5,344.7 295.1,343.5 295.8,342.3 296.4,341.1 297.0,339.9 297.6,338.6 298.3,337.4 298.9,336.2 299.5,334.9 300.1,333.7 300.8,332.5 301.4,331.3 302.0,330.0 302.6,328.8 303.2,327.6 303.9,326.4 304.5,325.2 305.1,324.1 305.7,322.9 306.4,321.8 307.0,320.6 307.6,319.5 308.2,318.4 308.9,317.3 309.5,316.2 310.1,315.2 310.7,314.2 311.4,313.2 312.0,312.2 312.6,311.2 313.2,310.3 313.8,309.4 314.5,308.5 315.1,307.6 315.7,306.8 316.3,306.0 317.0,305.3 317.6,304.5 318.2,303.8 318.8,303.1 319.5,302.5 320.1,301.9 320.7,301.3 321.3,300.8 321.9,300.3 322.6,299.8 323.2,299.4 323.8,299.0 324.4,298.7 325.1,298.3 325.7,298.1 326.3,297.8 326.9,297.6 327.6,297.4 328.2,297.3 328.8,297.2 329.4,297.2 330.0,297.2 330.7,297.2 331.3,297.3 331.9,297.4 332.5,297.5 333.2,297.7 333.8,297.9 334.4,298.2 335.0,298.5 335.7,298.8 336.3,299.2 336.9,299.6 337.5,300.0 338.2,300.5 338.8,301.0 339.4,301.6 340.0,302.2 340.6,302.8 341.3,303.4 341.9,304.1 342.5,304.8 343.1,305.6 343.8,306.4 344.4,307.2 345.0,308.0 345.6,308.9 346.3,309.8 346.9,310.7 347.5,311.6 348.1,312.6 348.7,313.6 349.4,314.6 350.0,315.6 350.6,316.7 351.2,317.8 351.9,318.9 352.5,320.0 353.1,321.1 353.7,322.2 354.4,323.4 355.0,324.6 355.6,325.7 356.2,326.9 356.8,328.1 357.5,329.3 358.1,330.6 358.7,331.8 359.3,333.0 360.0,334.2 360.6,335.5 361.2,336.7 361.8,337.9 362.5,339.2 363.1,340.4 363.7,341.6 364.3,342.8 365.0,344.0 365.6,345.2 366.2,346.4 366.8,347.6 367.4,348.8 368.1,349.9 368.7,351.1 369.3,352.2 369.9,353.3 370.6,354.4 371.2,355.5 371.8,356.6 372.4,357.6 373.1,358.6 373.7,359.6 374.3,360.6 374.9,361.5 375.5,362.5 376.2,363.4 376.8,364.2 377.4,365.1 378.0,365.9 378.7,366.7 379.3,367.4 379.9,368.1 380.5,368.8 381.2,369.5 381.8,370.1 382.4,370.7 383.0,371.3 383.7,371.8 384.3,372.3 384.9,372.7 385.5,373.2 386.1,373.5 386.8,373.9 387.4,374.2 388.0,374.4 388.6,374.7 389.3,374.9 389.9,375.0 390.5,375.1 391.1,375.2 391.8,375.2 392.4,375.2 393.0,375.2 393.6,375.1 394.2,375.0 394.9,374.8 395.5,374.6 396.1,374.4 396.7,374.1 397.4,373.8 398.0,373.5 398.6,373.1 399.2,372.7 399.9,372.2 400.5,371.7 401.1,371.2 401.7,370.6 402.3,370.0 403.0,369.4 403.6,368.7 404.2,368.0 404.8,367.3 405.5,366.5 406.1,365.7 406.7,364.9 407.3,364.1 408.0,363.2 408.6,362.3 409.2,361.4 409.8,360.4 410.5,359.4 411.1,358.4 411.7,357.4 412.3,356.4 412.9,355.3 413.6,354.2 414.2,353.1 414.8,352.0 415.4,350.9 416.1,349.7 416.7,348.6 417.3,347.4 417.9,346.2 418.6,345.0 419.2,343.8 419.8,342.6 420.4,341.4 421.0,340.2 421.7,338.9 422.3,337.7 422.9,336.5 423.5,335.2 424.2,334.0 424.8,332.8 425.4,331.6 426.0,330.3 426.7,329.1 427.3,327.9 427.9,326.7 428.5,325.5 429.2,324.4 429.8,323.2 430.4,322.0 431.0,320.9 431.6,319.8 432.3,318.7 432.9,317.6 433.5,316.5 434.1,315.4 434.8,314.4 435.4,313.4 436.0,312.4 436.6,311.4 437.3,310.5 437.9,309.6 438.5,308.7 439.1,307.8 439.7,307.0 440.4,306.2 441.0,305.4 441.6,304.7 442.2,304.0 442.9,303.3 443.5,302.7 444.1,302.0 444.7,301.5 445.4,300.9 446.0,300.4 446.6,299.9 447.2,299.5 447.8,299.1 448.5,298.7 449.1,298.4 449.7,298.1 450.3,297.9 451.0,297.7 451.6,297.5 452.2,297.3 452.8,297.2 453.5,297.2 454.1,297.2 454.7,297.2 455.3,297.2 456.0,297.3 456.6,297.5 457.2,297.6 457.8,297.9 458.4,298.1 459.1,298.4 459.7,298.7 460.3,299.1 460.9,299.5 461.6,299.9 462.2,300.4 462.8,300.9 463.4,301.4 464.1,302.0 464.7,302.6 465.3,303.3 465.9,303.9 466.5,304.7 467.2,305.4 467.8,306.2 468.4,307.0 469.0,307.8 469.7,308.7 470.3,309.5 470.9,310.5 471.5,311.4 472.2,312.4 472.8,313.3 473.4,314.3 474.0,315.4 474.7,316.4 475.3,317.5 475.9,318.6 476.5,319.7 477.1,320.8 477.8,322.0 478.4,323.1 479.0,324.3 479.6,325.5 480.3,326.6 480.9,327.8 481.5,329.0 482.1,330.3 482.8,331.5 483.4,332.7 484.0,333.9 484.6,335.2 485.2,336.4 485.9,337.6 486.5,338.9 487.1,340.1 487.7,341.3 488.4,342.5 489.0,343.7 489.6,344.9 490.2,346.1 490.9,347.3 491.5,348.5 492.1,349.7 492.7,350.8 493.3,351.9 494.0,353.1 494.6,354.2 495.2,355.2 495.8,356.3 496.5,357.4 497.1,358.4 497.7,359.4 498.3,360.4 499.0,361.3 499.6,362.2 500.2,363.1 500.8,364.0 501.5,364.9 502.1,365.7 502.7,366.5 503.3,367.2 503.9,368.0 504.6,368.7 505.2,369.3 505.8,370.0 506.4,370.6 507.1,371.1 507.7,371.7 508.3,372.2 508.9,372.6 509.6,373.1 510.2,373.4 510.8,373.8 511.4,374.1 512.0,374.4 512.7,374.6 513.3,374.8 513.9,375.0 514.5,375.1 515.2,375.2 515.8,375.2 516.4,375.2 517.0,375.2 517.7,375.1 518.3,375.0 518.9,374.9 519.5,374.7 520.2,374.5 520.8,374.2 521.4,373.9 522.0,373.6 522.6,373.2 523.3,372.8 523.9,372.3 524.5,371.8 525.1,371.3 525.8,370.8 526.4,370.2 527.0,369.5 527.6,368.9 528.3,368.2 528.9,367.5 529.5,366.7" fill="none" stroke="#111" stroke-width="1.15"/>
<polygon points="93.2,320.0 93.8,320.3 94.4,320.6 95.1,320.8 95.7,321.1 96.3,321.5 96.9,321.8 97.6,322.1 98.2,322.5 98.8,322.8 99.4,323.2 100.1,323.6 100.7,323.9 101.3,324.3 101.9,324.7 102.5,325.2 103.2,325.6 103.8,326.0 104.4,326.5 105.0,326.9 105.7,327.4 106.3,327.9 106.9,328.3 107.5,328.8 108.2,329.3 108.8,329.8 109.4,330.3 110.0,330.8 110.7,331.4 111.3,331.9 111.9,332.4 112.5,332.9 113.1,333.5 113.8,334.0 114.4,334.6 115.0,335.1 115.6,335.6 116.3,336.2 116.9,336.7 117.5,337.2 118.1,337.8 118.8,338.3 119.4,338.8 120.0,339.3 120.6,339.8 121.2,340.2 121.9,340.7 122.5,341.2 123.1,341.6 123.7,342.0 124.4,342.4 125.0,342.8 125.6,343.2 126.2,343.6 126.9,343.9 127.5,344.3 128.1,344.6 128.7,344.9 129.4,345.1 130.0,345.4 130.6,345.7 131.2,345.9 131.8,346.1 132.5,346.3 133.1,346.5 133.7,346.7 134.3,346.8 135.0,346.9 135.6,347.1 136.2,347.2 136.8,347.3 137.5,347.4 138.1,347.5 138.7,347.5 139.3,347.6 139.9,347.7 140.6,347.7 141.2,347.7 141.8,347.8 142.4,347.8 143.1,347.8 143.7,347.8 144.3,347.8 144.9,347.8 145.6,347.8 146.2,347.7 146.8,347.7 147.4,347.7 148.0,347.6 148.7,347.6 149.3,347.5 149.9,347.4 150.5,347.3 151.2,347.2 151.8,347.1 152.4,347.0 153.0,346.9 153.7,346.7 154.3,346.6 154.9,346.4 155.5,346.2 156.2,346.0 156.8,345.8 157.4,345.6 158.0,345.3 158.6,345.1 159.3,344.8 159.9,344.5 160.5,344.2 161.1,343.8 161.8,343.5 162.4,343.1 163.0,342.7 163.6,342.3 164.3,341.9 164.9,341.5 165.5,341.1 166.1,340.6 166.7,340.2 167.4,339.7 168.0,339.2 168.6,338.7 169.2,338.2 169.9,337.7 170.5,337.1 171.1,336.6 171.7,336.1 172.4,335.6 173.0,335.0 173.6,334.5 174.2,333.9 174.9,333.4 175.5,332.9 176.1,332.3 176.7,331.8 177.3,331.3 178.0,330.7 178.6,330.2 179.2,329.7 179.8,329.2 180.5,328.7 181.1,328.2 181.7,327.7 182.3,327.3 183.0,326.8 183.6,326.3 184.2,325.9 184.8,325.4 185.4,325.0 186.1,324.6 186.7,324.2 187.3,323.8 187.9,323.4 188.6,323.0 189.2,322.6 189.8,322.3 190.4,321.9 191.1,321.6 191.7,321.3 192.3,320.9 192.9,320.6 193.5,320.3 194.2,320.1 194.8,319.8 195.4,319.6 196.0,319.3 196.7,319.1 197.3,318.9 197.9,318.7 198.5,318.5 199.2,318.3 199.8,318.2 200.4,318.0 201.0,317.9 201.7,317.8 202.3,317.7 202.9,317.6 203.5,317.6 204.1,317.5 204.8,317.5 205.4,317.5 206.0,317.5 206.6,317.5 207.3,317.5 207.9,317.6 208.5,317.6 209.1,317.7 209.8,317.8 210.4,317.9 211.0,318.0 211.6,318.1 212.2,318.3 212.9,318.5 213.5,318.6 214.1,318.8 214.7,319.0 215.4,319.2 216.0,319.5 216.6,319.7 217.2,319.9 217.9,320.2 218.5,320.5 219.1,320.8 219.7,321.1 220.4,321.4 221.0,321.7 221.6,322.0 222.2,322.4 222.8,322.7 223.5,323.1 224.1,323.5 224.7,323.8 225.3,324.2 226.0,324.6 226.6,325.1 227.2,325.5 227.8,325.9 228.5,326.4 229.1,326.8 229.7,327.3 230.3,327.7 230.9,328.2 231.6,328.7 232.2,329.2 232.8,329.7 233.4,330.2 234.1,330.7 234.7,331.2 235.3,331.8 235.9,332.3 236.6,332.8 237.2,333.4 237.8,333.9 238.4,334.4 239.0,335.0 239.7,335.5 240.3,336.0 240.9,336.6 241.5,337.1 242.2,337.6 242.8,338.1 243.4,338.7 244.0,339.2 244.7,339.6 245.3,340.1 245.9,340.6 246.5,341.1 247.2,341.5 247.8,341.9 248.4,342.3 249.0,342.7 249.6,343.1 250.3,343.5 250.9,343.8 251.5,344.2 252.1,344.5 252.8,344.8 253.4,345.1 254.0,345.3 254.6,345.6 255.3,345.8 255.9,346.0 256.5,346.3 257.1,346.4 257.7,346.6 258.4,346.8 259.0,346.9 259.6,347.0 260.2,347.2 260.9,347.3 261.5,347.4 262.1,347.4 262.7,347.5 263.4,347.6 264.0,347.6 264.6,347.7 265.2,347.7 265.9,347.8 266.5,347.8 267.1,347.8 267.7,347.8 268.3,347.8 269.0,347.8 269.6,347.8 270.2,347.7 270.8,347.7 271.5,347.7 272.1,347.6 272.7,347.6 273.3,347.5 274.0,347.4 274.6,347.4 275.2,347.3 275.8,347.2 276.4,347.0 277.1,346.9 277.7,346.8 278.3,346.6 278.9,346.4 279.6,346.3 280.2,346.1 280.8,345.9 281.4,345.6 282.1,345.4 282.7,345.1 283.3,344.8 283.9,344.5 284.5,344.2 285.2,343.9 285.8,343.6 286.4,343.2 287.0,342.8 287.7,342.4 288.3,342.0 288.9,341.6 289.5,341.2 290.2,340.7 290.8,340.3 291.4,339.8 292.0,339.3 292.7,338.8 293.3,338.3 293.9,337.8 294.5,337.3 295.1,336.8 295.8,336.2 296.4,335.7 297.0,335.2 297.6,334.6 298.3,334.1 298.9,333.5 299.5,333.0 300.1,332.5 300.8,331.9 301.4,331.4 302.0,330.9 302.6,330.4 303.2,329.8 303.9,329.3 304.5,328.8 305.1,328.3 305.7,327.9 306.4,327.4 307.0,326.9 307.6,326.4 308.2,326.0 308.9,325.5 309.5,325.1 310.1,324.7 310.7,324.3 311.4,323.9 312.0,323.5 312.6,323.1 313.2,322.7 313.8,322.3 314.5,322.0 315.1,321.7 315.7,321.3 316.3,321.0 317.0,320.7 317.6,320.4 318.2,320.1 318.8,319.9 319.5,319.6 320.1,319.4 320.7,319.1 321.3,318.9 321.9,318.7 322.6,318.6 323.2,318.4 323.8,318.2 324.4,318.1 325.1,318.0 325.7,317.8 326.3,317.7 326.9,317.7 327.6,317.6 328.2,317.5 328.8,317.5 329.4,317.5 330.0,317.5 330.7,317.5 331.3,317.5 331.9,317.6 332.5,317.6 333.2,317.7 333.8,317.8 334.4,317.9 335.0,318.0 335.7,318.1 336.3,318.3 336.9,318.4 337.5,318.6 338.2,318.8 338.8,319.0 339.4,319.2 340.0,319.4 340.6,319.6 341.3,319.9 341.9,320.1 342.5,320.4 343.1,320.7 343.8,321.0 344.4,321.3 345.0,321.6 345.6,322.0 346.3,322.3 346.9,322.6 347.5,323.0 348.1,323.4 348.7,323.8 349.4,324.1 350.0,324.5 350.6,325.0 351.2,325.4 351.9,325.8 352.5,326.3 353.1,326.7 353.7,327.2 354.4,327.6 355.0,328.1 355.6,328.6 356.2,329.1 356.8,329.6 357.5,330.1 358.1,330.6 358.7,331.1 359.3,331.6 360.0,332.2 360.6,332.7 361.2,333.2 361.8,333.8 362.5,334.3 363.1,334.8 363.7,335.4 364.3,335.9 365.0,336.4 365.6,337.0 366.2,337.5 366.8,338.0 367.4,338.5 368.1,339.0 368.7,339.5 369.3,340.0 369.9,340.5 370.6,340.9 371.2,341.4 371.8,341.8 372.4,342.2 373.1,342.6 373.7,343.0 374.3,343.4 374.9,343.8 375.5,344.1 376.2,344.4 376.8,344.7 377.4,345.0 378.0,345.3 378.7,345.5 379.3,345.8 379.9,346.0 380.5,346.2 381.2,346.4 381.8,346.6 382.4,346.7 383.0,346.9 383.7,347.0 384.3,347.1 384.9,347.2 385.5,347.3 386.1,347.4 386.8,347.5 387.4,347.6 388.0,347.6 388.6,347.7 389.3,347.7 389.9,347.7 390.5,347.8 391.1,347.8 391.8,347.8 392.4,347.8 393.0,347.8 393.6,347.8 394.2,347.8 394.9,347.7 395.5,347.7 396.1,347.6 396.7,347.6 397.4,347.5 398.0,347.5 398.6,347.4 399.2,347.3 399.9,347.2 400.5,347.1 401.1,346.9 401.7,346.8 402.3,346.7 403.0,346.5 403.6,346.3 404.2,346.1 404.8,345.9 405.5,345.7 406.1,345.4 406.7,345.2 407.3,344.9 408.0,344.6 408.6,344.3 409.2,344.0 409.8,343.7 410.5,343.3 411.1,342.9 411.7,342.5 412.3,342.1 412.9,341.7 413.6,341.3 414.2,340.8 414.8,340.4 415.4,339.9 416.1,339.4 416.7,338.9 417.3,338.4 417.9,337.9 418.6,337.4 419.2,336.9 419.8,336.3 420.4,335.8 421.0,335.3 421.7,334.7 422.3,334.2 422.9,333.7 423.5,333.1 424.2,332.6 424.8,332.1 425.4,331.5 426.0,331.0 426.7,330.5 427.3,330.0 427.9,329.5 428.5,329.0 429.2,328.5 429.8,328.0 430.4,327.5 431.0,327.0 431.6,326.6 432.3,326.1 432.9,325.7 433.5,325.2 434.1,324.8 434.8,324.4 435.4,324.0 436.0,323.6 436.6,323.2 437.3,322.8 437.9,322.4 438.5,322.1 439.1,321.7 439.7,321.4 440.4,321.1 441.0,320.8 441.6,320.5 442.2,320.2 442.9,319.9 443.5,319.7 444.1,319.4 444.7,319.2 445.4,319.0 446.0,318.8 446.6,318.6 447.2,318.4 447.8,318.3 448.5,318.1 449.1,318.0 449.7,317.9 450.3,317.8 451.0,317.7 451.6,317.6 452.2,317.6 452.8,317.5 453.5,317.5 454.1,317.5 454.7,317.5 455.3,317.5 456.0,317.5 456.6,317.6 457.2,317.7 457.8,317.7 458.4,317.8 459.1,318.0 459.7,318.1 460.3,318.2 460.9,318.4 461.6,318.5 462.2,318.7 462.8,318.9 463.4,319.1 464.1,319.3 464.7,319.6 465.3,319.8 465.9,320.1 466.5,320.4 467.2,320.6 467.8,320.9 468.4,321.2 469.0,321.5 469.7,321.9 470.3,322.2 470.9,322.6 471.5,322.9 472.2,323.3 472.8,323.7 473.4,324.1 474.0,324.5 474.7,324.9 475.3,325.3 475.9,325.7 476.5,326.1 477.1,326.6 477.8,327.0 478.4,327.5 479.0,328.0 479.6,328.5 480.3,329.0 480.9,329.5 481.5,330.0 482.1,330.5 482.8,331.0 483.4,331.5 484.0,332.0 484.6,332.6 485.2,333.1 485.9,333.6 486.5,334.2 487.1,334.7 487.7,335.2 488.4,335.8 489.0,336.3 489.6,336.8 490.2,337.4 490.9,337.9 491.5,338.4 492.1,338.9 492.7,339.4 493.3,339.9 494.0,340.4 494.6,340.8 495.2,341.3 495.8,341.7 496.5,342.1 497.1,342.5 497.7,342.9 498.3,343.3 499.0,343.7 499.6,344.0 500.2,344.3 500.8,344.7 501.5,344.9 502.1,345.2 502.7,345.5 503.3,345.7 503.9,345.9 504.6,346.2 505.2,346.3 505.8,346.5 506.4,346.7 507.1,346.8 507.7,347.0 508.3,347.1 508.9,347.2 509.6,347.3 510.2,347.4 510.8,347.5 511.4,347.6 512.0,347.6 512.7,347.7 513.3,347.7 513.9,347.7 514.5,347.8 515.2,347.8 515.8,347.8 516.4,347.8 517.0,347.8 517.7,347.8 518.3,347.8 518.9,347.7 519.5,347.7 520.2,347.7 520.8,347.6 521.4,347.5 522.0,347.5 522.6,347.4 523.3,347.3 523.9,347.2 524.5,347.1 525.1,347.0 525.8,346.8 526.4,346.7 527.0,346.5 527.6,346.4 528.3,346.2 528.9,346.0 529.5,345.7 529.5,351.2 528.9,351.5 528.3,351.8 527.6,352.1 527.0,352.3 526.4,352.5 525.8,352.8 525.1,353.0 524.5,353.2 523.9,353.4 523.3,353.5 522.6,353.7 522.0,353.8 521.4,354.0 520.8,354.1 520.2,354.2 519.5,354.3 518.9,354.4 518.3,354.4 517.7,354.5 517.0,354.5 516.4,354.5 515.8,354.5 515.2,354.5 514.5,354.4 513.9,354.4 513.3,354.3 512.7,354.2 512.0,354.1 511.4,354.0 510.8,353.9 510.2,353.8 509.6,353.6 508.9,353.4 508.3,353.3 507.7,353.1 507.1,352.9 506.4,352.6 505.8,352.4 505.2,352.1 504.6,351.9 503.9,351.6 503.3,351.3 502.7,351.0 502.1,350.7 501.5,350.4 500.8,350.0 500.2,349.7 499.6,349.3 499.0,348.9 498.3,348.6 497.7,348.2 497.1,347.8 496.5,347.3 495.8,346.9 495.2,346.5 494.6,346.0 494.0,345.6 493.3,345.1 492.7,344.7 492.1,344.2 491.5,343.7 490.9,343.2 490.2,342.7 489.6,342.2 489.0,341.7 488.4,341.2 487.7,340.6 487.1,340.1 486.5,339.6 485.9,339.1 485.2,338.5 484.6,338.0 484.0,337.4 483.4,336.9 482.8,336.4 482.1,335.8 481.5,335.3 480.9,334.8 480.3,334.2 479.6,333.7 479.0,333.2 478.4,332.7 477.8,332.2 477.1,331.8 476.5,331.3 475.9,330.9 475.3,330.4 474.7,330.0 474.0,329.6 473.4,329.2 472.8,328.8 472.2,328.5 471.5,328.1 470.9,327.8 470.3,327.5 469.7,327.2 469.0,326.9 468.4,326.6 467.8,326.4 467.2,326.2 466.5,325.9 465.9,325.7 465.3,325.6 464.7,325.4 464.1,325.2 463.4,325.1 462.8,325.0 462.2,324.8 461.6,324.7 460.9,324.6 460.3,324.5 459.7,324.5 459.1,324.4 458.4,324.4 457.8,324.3 457.2,324.3 456.6,324.2 456.0,324.2 455.3,324.2 454.7,324.2 454.1,324.2 453.5,324.2 452.8,324.2 452.2,324.2 451.6,324.2 451.0,324.3 450.3,324.3 449.7,324.4 449.1,324.4 448.5,324.5 447.8,324.6 447.2,324.7 446.6,324.8 446.0,324.9 445.4,325.0 444.7,325.2 444.1,325.3 443.5,325.5 442.9,325.7 442.2,325.9 441.6,326.1 441.0,326.3 440.4,326.6 439.7,326.9 439.1,327.1 438.5,327.4 437.9,327.8 437.3,328.1 436.6,328.4 436.0,328.8 435.4,329.2 434.8,329.6 434.1,330.0 433.5,330.4 432.9,330.9 432.3,331.3 431.6,331.8 431.0,332.3 430.4,332.8 429.8,333.3 429.2,333.8 428.5,334.3 427.9,334.8 427.3,335.3 426.7,335.9 426.0,336.4 425.4,336.9 424.8,337.5 424.2,338.0 423.5,338.5 422.9,339.1 422.3,339.6 421.7,340.1 421.0,340.7 420.4,341.2 419.8,341.7 419.2,342.2 418.6,342.7 417.9,343.2 417.3,343.7 416.7,344.2 416.1,344.6 415.4,345.1 414.8,345.6 414.2,346.0 413.6,346.4 412.9,346.9 412.3,347.3 411.7,347.7 411.1,348.1 410.5,348.5 409.8,348.8 409.2,349.2 408.6,349.6 408.0,349.9 407.3,350.2 406.7,350.6 406.1,350.9 405.5,351.2 404.8,351.5 404.2,351.7 403.6,352.0 403.0,352.2 402.3,352.5 401.7,352.7 401.1,352.9 400.5,353.1 399.9,353.3 399.2,353.5 398.6,353.7 398.0,353.8 397.4,353.9 396.7,354.1 396.1,354.2 395.5,354.3 394.9,354.3 394.2,354.4 393.6,354.4 393.0,354.5 392.4,354.5 391.8,354.5 391.1,354.5 390.5,354.4 389.9,354.4 389.3,354.3 388.6,354.3 388.0,354.2 387.4,354.1 386.8,353.9 386.1,353.8 385.5,353.7 384.9,353.5 384.3,353.3 383.7,353.1 383.0,352.9 382.4,352.7 381.8,352.5 381.2,352.2 380.5,351.9 379.9,351.7 379.3,351.4 378.7,351.1 378.0,350.8 377.4,350.4 376.8,350.1 376.2,349.8 375.5,349.4 374.9,349.0 374.3,348.7 373.7,348.3 373.1,347.9 372.4,347.4 371.8,347.0 371.2,346.6 370.6,346.2 369.9,345.7 369.3,345.2 368.7,344.8 368.1,344.3 367.4,343.8 366.8,343.3 366.2,342.8 365.6,342.3 365.0,341.8 364.3,341.3 363.7,340.8 363.1,340.2 362.5,339.7 361.8,339.2 361.2,338.6 360.6,338.1 360.0,337.6 359.3,337.0 358.7,336.5 358.1,336.0 357.5,335.4 356.8,334.9 356.2,334.4 355.6,333.9 355.0,333.4 354.4,332.9 353.7,332.4 353.1,331.9 352.5,331.4 351.9,331.0 351.2,330.5 350.6,330.1 350.0,329.7 349.4,329.3 348.7,328.9 348.1,328.5 347.5,328.2 346.9,327.9 346.3,327.5 345.6,327.2 345.0,327.0 344.4,326.7 343.8,326.4 343.1,326.2 342.5,326.0 341.9,325.8 341.3,325.6 340.6,325.4 340.0,325.3 339.4,325.1 338.8,325.0 338.2,324.9 337.5,324.8 336.9,324.7 336.3,324.6 335.7,324.5 335.0,324.4 334.4,324.4 333.8,324.3 333.2,324.3 332.5,324.2 331.9,324.2 331.3,324.2 330.7,324.2 330.0,324.2 329.4,324.2 328.8,324.2 328.2,324.2 327.6,324.2 326.9,324.3 326.3,324.3 325.7,324.4 325.1,324.4 324.4,324.5 323.8,324.6 323.2,324.7 322.6,324.8 321.9,324.9 321.3,325.0 320.7,325.1 320.1,325.3 319.5,325.5 318.8,325.7 318.2,325.8 317.6,326.1 317.0,326.3 316.3,326.5 315.7,326.8 315.1,327.1 314.5,327.4 313.8,327.7 313.2,328.0 312.6,328.3 312.0,328.7 311.4,329.1 310.7,329.5 310.1,329.9 309.5,330.3 308.9,330.8 308.2,331.2 307.6,331.7 307.0,332.1 306.4,332.6 305.7,333.1 305.1,333.6 304.5,334.1 303.9,334.7 303.2,335.2 302.6,335.7 302.0,336.3 301.4,336.8 300.8,337.3 300.1,337.9 299.5,338.4 298.9,339.0 298.3,339.5 297.6,340.0 297.0,340.5 296.4,341.1 295.8,341.6 295.1,342.1 294.5,342.6 293.9,343.1 293.3,343.6 292.7,344.1 292.0,344.5 291.4,345.0 290.8,345.4 290.2,345.9 289.5,346.3 288.9,346.8 288.3,347.2 287.7,347.6 287.0,348.0 286.4,348.4 285.8,348.7 285.2,349.1 284.5,349.5 283.9,349.8 283.3,350.1 282.7,350.5 282.1,350.8 281.4,351.1 280.8,351.4 280.2,351.7 279.6,351.9 278.9,352.2 278.3,352.4 277.7,352.7 277.1,352.9 276.4,353.1 275.8,353.3 275.2,353.5 274.6,353.6 274.0,353.8 273.3,353.9 272.7,354.0 272.1,354.1 271.5,354.2 270.8,354.3 270.2,354.4 269.6,354.4 269.0,354.5 268.3,354.5 267.7,354.5 267.1,354.5 266.5,354.5 265.9,354.4 265.2,354.4 264.6,354.3 264.0,354.2 263.4,354.1 262.7,354.0 262.1,353.8 261.5,353.7 260.9,353.5 260.2,353.4 259.6,353.2 259.0,353.0 258.4,352.7 257.7,352.5 257.1,352.3 256.5,352.0 255.9,351.7 255.3,351.4 254.6,351.2 254.0,350.8 253.4,350.5 252.8,350.2 252.1,349.8 251.5,349.5 250.9,349.1 250.3,348.7 249.6,348.4 249.0,348.0 248.4,347.5 247.8,347.1 247.2,346.7 246.5,346.3 245.9,345.8 245.3,345.4 244.7,344.9 244.0,344.4 243.4,343.9 242.8,343.4 242.2,343.0 241.5,342.4 240.9,341.9 240.3,341.4 239.7,340.9 239.0,340.4 238.4,339.8 237.8,339.3 237.2,338.8 236.6,338.2 235.9,337.7 235.3,337.2 234.7,336.6 234.1,336.1 233.4,335.6 232.8,335.0 232.2,334.5 231.6,334.0 230.9,333.5 230.3,333.0 229.7,332.5 229.1,332.0 228.5,331.5 227.8,331.1 227.2,330.6 226.6,330.2 226.0,329.8 225.3,329.4 224.7,329.0 224.1,328.6 223.5,328.3 222.8,327.9 222.2,327.6 221.6,327.3 221.0,327.0 220.4,326.8 219.7,326.5 219.1,326.3 218.5,326.0 217.9,325.8 217.2,325.6 216.6,325.5 216.0,325.3 215.4,325.2 214.7,325.0 214.1,324.9 213.5,324.8 212.9,324.7 212.2,324.6 211.6,324.5 211.0,324.4 210.4,324.4 209.8,324.3 209.1,324.3 208.5,324.2 207.9,324.2 207.3,324.2 206.6,324.2 206.0,324.2 205.4,324.2 204.8,324.2 204.1,324.2 203.5,324.2 202.9,324.3 202.3,324.3 201.7,324.4 201.0,324.4 200.4,324.5 199.8,324.6 199.2,324.6 198.5,324.7 197.9,324.9 197.3,325.0 196.7,325.1 196.0,325.3 195.4,325.4 194.8,325.6 194.2,325.8 193.5,326.0 192.9,326.2 192.3,326.5 191.7,326.7 191.1,327.0 190.4,327.3 189.8,327.6 189.2,327.9 188.6,328.3 187.9,328.6 187.3,329.0 186.7,329.4 186.1,329.8 185.4,330.2 184.8,330.6 184.2,331.1 183.6,331.6 183.0,332.0 182.3,332.5 181.7,333.0 181.1,333.5 180.5,334.0 179.8,334.5 179.2,335.1 178.6,335.6 178.0,336.1 177.3,336.7 176.7,337.2 176.1,337.7 175.5,338.3 174.9,338.8 174.2,339.4 173.6,339.9 173.0,340.4 172.4,340.9 171.7,341.5 171.1,342.0 170.5,342.5 169.9,343.0 169.2,343.5 168.6,343.9 168.0,344.4 167.4,344.9 166.7,345.3 166.1,345.8 165.5,346.2 164.9,346.7 164.3,347.1 163.6,347.5 163.0,347.9 162.4,348.3 161.8,348.7 161.1,349.0 160.5,349.4 159.9,349.7 159.3,350.1 158.6,350.4 158.0,350.7 157.4,351.0 156.8,351.3 156.2,351.6 155.5,351.9 154.9,352.1 154.3,352.4 153.7,352.6 153.0,352.8 152.4,353.0 151.8,353.2 151.2,353.4 150.5,353.6 149.9,353.7 149.3,353.9 148.7,354.0 148.0,354.1 147.4,354.2 146.8,354.3 146.2,354.4 145.6,354.4 144.9,354.5 144.3,354.5 143.7,354.5 143.1,354.5 142.4,354.5 141.8,354.4 141.2,354.4 140.6,354.3 139.9,354.2 139.3,354.1 138.7,354.0 138.1,353.9 137.5,353.7 136.8,353.6 136.2,353.4 135.6,353.2 135.0,353.0 134.3,352.8 133.7,352.6 133.1,352.3 132.5,352.1 131.8,351.8 131.2,351.5 130.6,351.2 130.0,350.9 129.4,350.6 128.7,350.3 128.1,349.9 127.5,349.6 126.9,349.2 126.2,348.8 125.6,348.5 125.0,348.1 124.4,347.6 123.7,347.2 123.1,346.8 122.5,346.4 121.9,345.9 121.2,345.5 120.6,345.0 120.0,344.5 119.4,344.1 118.8,343.6 118.1,343.1 117.5,342.6 116.9,342.1 116.3,341.5 115.6,341.0 115.0,340.5 114.4,340.0 113.8,339.4 113.1,338.9 112.5,338.4 111.9,337.8 111.3,337.3 110.7,336.8 110.0,336.2 109.4,335.7 108.8,335.2 108.2,334.6 107.5,334.1 106.9,333.6 106.3,333.1 105.7,332.6 105.0,332.1 104.4,331.6 103.8,331.2 103.2,330.7 102.5,330.3 101.9,329.9 101.3,329.5 100.7,329.1 100.1,328.7 99.4,328.4 98.8,328.0 98.2,327.7 97.6,327.4 96.9,327.1 96.3,326.8 95.7,326.6 95.1,326.3 94.4,326.1 93.8,325.9 93.2,325.7" fill="#000"/>
</g>
<path d="M93.2,301.1h4.5 M529.5,301.1h-4 M93.2,336.7h4.5 M529.5,336.7h-4 M93.2,372.3h4.5 M529.5,372.3h-4 M155.1,379.2v-4.5 M155.1,294.2v4 M217.0,379.2v-4.5 M217.0,294.2v4 M278.9,379.2v-4.5 M278.9,294.2v4 M340.8,379.2v-4.5 M340.8,294.2v4 M402.7,379.2v-4.5 M402.7,294.2v4 M464.6,379.2v-4.5 M464.6,294.2v4 M526.5,379.2v-4.5 M526.5,294.2v4" stroke="#111" stroke-width="1.4" fill="none"/>
<rect x="93.2" y="294.2" width="436.3" height="85.0" fill="none" stroke="#111" stroke-width="1.6"/>
<text class="s" transform="translate(87.4,305.9) scale(0.9,1)" text-anchor="end">10</text>
<text class="s" transform="translate(87.4,341.6) scale(0.9,1)" text-anchor="end">0</text>
<text class="s" transform="translate(87.4,377.2) scale(0.9,1)" text-anchor="end">-10</text>
<text class="s" transform="translate(93.2,400.8) scale(0.825,1)" text-anchor="middle">0</text>
<text class="s" transform="translate(155.1,400.8) scale(0.825,1)" text-anchor="middle">0.01</text>
<text class="s" transform="translate(217.0,400.8) scale(0.825,1)" text-anchor="middle">0.02</text>
<text class="s" transform="translate(278.9,400.8) scale(0.825,1)" text-anchor="middle">0.03</text>
<text class="s" transform="translate(340.8,400.8) scale(0.825,1)" text-anchor="middle">0.04</text>
<text class="s" transform="translate(402.7,400.8) scale(0.825,1)" text-anchor="middle">0.05</text>
<text class="s" transform="translate(464.6,400.8) scale(0.825,1)" text-anchor="middle">0.06</text>
<text class="s" transform="translate(527.7,400.8) scale(0.825,1)" text-anchor="middle">0.07</text>
<path d="M41.2,19.3V39" stroke="#111" stroke-width="2" fill="none"/>
<polygon points="41.2,10.9 51.6,30.5 50.1,31.7 42.1,21.5 40.3,21.5 32.3,31.7 30.8,30.5" fill="#111"/>
<path d="M34.9,150.3V173.1" stroke="#111" stroke-width="2" fill="none"/>
<polygon points="34.9,141.9 45.4,161.4 43.9,162.6 35.8,152.5 34.0,152.5 25.9,162.6 24.4,161.4" fill="#111"/>
<path d="M31.7,284.5V304.2" stroke="#111" stroke-width="2" fill="none"/>
<polygon points="31.7,276.1 42.2,296.0 40.7,297.2 32.6,286.7 30.8,286.7 22.7,297.2 21.2,296.0" fill="#111"/>
<text class="t" x="8.6" y="73.7" font-size="33">V<tspan font-size="23" dy="1.5">g-a</tspan></text>
<text class="t" x="11.8" y="199.7" font-size="32">V<tspan font-size="23" dy="1.5">g-b</tspan></text>
<text class="t" x="5.3" y="335" font-size="33">V<tspan font-size="23" dy="1.5">g-c</tspan></text>
<text class="t" x="32" y="114.6" font-size="35">i<tspan font-size="23.5" dy="1">a</tspan></text>
<text class="t" x="34.3" y="245.8" font-size="35">i<tspan font-size="23.5" dy="1">b</tspan></text>
<text class="t" x="23" y="375.8" font-size="35">i<tspan font-size="23.5" dy="1">c</tspan></text>
<path d="M276.2,43.3H313.6" stroke="#111" stroke-width="1.8" fill="none"/>
<polygon points="267.8,43.3 286.8,34.5 288.0,36.0 278.4,42.4 278.4,44.2 288.0,50.6 286.8,52.1" fill="#111"/>
<path d="M320.7,180.5H357.8" stroke="#111" stroke-width="1.8" fill="none"/>
<polygon points="312.3,180.5 330.5,171.8 331.7,173.3 322.9,179.6 322.9,181.4 331.7,187.7 330.5,189.2" fill="#111"/>
<path d="M363.5,313.2H400" stroke="#111" stroke-width="1.8" fill="none"/>
<polygon points="355.1,313.2 373.1,304.1 374.3,305.6 365.7,312.3 365.7,314.1 374.3,320.8 373.1,322.3" fill="#111"/>
<g><text class="t h" x="325.3" y="49.3" font-size="27.6">0.03<tspan dx="2.2" dy="1.8" font-size="30">*</tspan></text>
<text class="t" x="395.3" y="49.3" font-size="32">V<tspan font-size="22" dy="3.0">g-a</tspan></text></g>
<g><text class="t h" x="363" y="185.6" font-size="27.6">0.03<tspan dx="2.2" dy="1.8" font-size="30">*</tspan></text>
<text class="t" x="434.9" y="185.6" font-size="32">V<tspan font-size="23.5" dy="2.0">g-b</tspan></text></g>
<g clip-path="url(#c2)"><text class="t h" x="401.8" y="321.3" font-size="27.6">0.03<tspan dx="2.2" dy="1.8" font-size="30">*</tspan></text>
<text class="t" x="476.9" y="321.3" font-size="32">V<tspan font-size="23.5" dy="1.0">g-c</tspan></text></g>
<text class="t" x="415" y="450.9" font-size="31">sec</text>
<path d="M460.5,442.9H505" stroke="#111" stroke-width="1.8" fill="none"/>
<polygon points="514.5,442.8 494.8,452.8 493.6,451.3 503.9,443.7 503.9,441.9 493.6,434.3 494.8,432.8" fill="#111"/>
</svg></body></html>
